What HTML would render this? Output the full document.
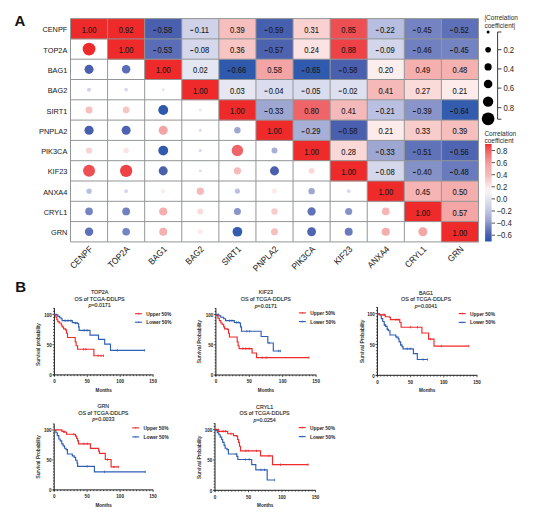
<!DOCTYPE html>
<html><head><meta charset="utf-8"><style>
html,body{margin:0;padding:0;background:#fff;width:550px;height:518px;overflow:hidden}
svg{display:block}
text{font-family:"Liberation Sans",sans-serif}
</style></head><body>
<svg width="550" height="518" viewBox="0 0 550 518">
<rect width="550" height="518" fill="#fff"/>
<rect x="70.50" y="18.60" width="37.39" height="20.60" fill="#ee2a2a"/>
<rect x="107.59" y="18.60" width="37.39" height="20.60" fill="#ee2a2a"/>
<rect x="144.68" y="18.60" width="37.39" height="20.60" fill="#4a60af"/>
<rect x="181.77" y="18.60" width="37.39" height="20.60" fill="#cfd2e8"/>
<rect x="218.86" y="18.60" width="37.39" height="20.60" fill="#f7bebe"/>
<rect x="255.95" y="18.60" width="37.39" height="20.60" fill="#465faf"/>
<rect x="293.04" y="18.60" width="37.39" height="20.60" fill="#fad1d1"/>
<rect x="330.13" y="18.60" width="37.39" height="20.60" fill="#ee4f53"/>
<rect x="367.22" y="18.60" width="37.39" height="20.60" fill="#b8bee0"/>
<rect x="404.31" y="18.60" width="37.39" height="20.60" fill="#7483c1"/>
<rect x="441.40" y="18.60" width="37.39" height="20.60" fill="#5d70b8"/>
<rect x="107.59" y="38.90" width="37.39" height="20.60" fill="#ee2a2a"/>
<rect x="144.68" y="38.90" width="37.39" height="20.60" fill="#5a6db6"/>
<rect x="181.77" y="38.90" width="37.39" height="20.60" fill="#d5d7eb"/>
<rect x="218.86" y="38.90" width="37.39" height="20.60" fill="#f8c5c5"/>
<rect x="255.95" y="38.90" width="37.39" height="20.60" fill="#4d63b0"/>
<rect x="293.04" y="38.90" width="37.39" height="20.60" fill="#fce3e3"/>
<rect x="330.13" y="38.90" width="37.39" height="20.60" fill="#ee4246"/>
<rect x="367.22" y="38.90" width="37.39" height="20.60" fill="#d3d6ea"/>
<rect x="404.31" y="38.90" width="37.39" height="20.60" fill="#7080c0"/>
<rect x="441.40" y="38.90" width="37.39" height="20.60" fill="#7483c1"/>
<rect x="144.68" y="59.20" width="37.39" height="20.60" fill="#ee2a2a"/>
<rect x="181.77" y="59.20" width="37.39" height="20.60" fill="#e4e6f2"/>
<rect x="218.86" y="59.20" width="37.39" height="20.60" fill="#2e59ad"/>
<rect x="255.95" y="59.20" width="37.39" height="20.60" fill="#f4a4a4"/>
<rect x="293.04" y="59.20" width="37.39" height="20.60" fill="#2f5aae"/>
<rect x="330.13" y="59.20" width="37.39" height="20.60" fill="#4a60af"/>
<rect x="367.22" y="59.20" width="37.39" height="20.60" fill="#fdeeee"/>
<rect x="404.31" y="59.20" width="37.39" height="20.60" fill="#f5afaf"/>
<rect x="441.40" y="59.20" width="37.39" height="20.60" fill="#f5b0b0"/>
<rect x="181.77" y="79.50" width="37.39" height="20.60" fill="#ee2a2a"/>
<rect x="218.86" y="79.50" width="37.39" height="20.60" fill="#e6e7f2"/>
<rect x="255.95" y="79.50" width="37.39" height="20.60" fill="#dbddee"/>
<rect x="293.04" y="79.50" width="37.39" height="20.60" fill="#d9dced"/>
<rect x="330.13" y="79.50" width="37.39" height="20.60" fill="#dee0ef"/>
<rect x="367.22" y="79.50" width="37.39" height="20.60" fill="#f6b9b9"/>
<rect x="404.31" y="79.50" width="37.39" height="20.60" fill="#fbdada"/>
<rect x="441.40" y="79.50" width="37.39" height="20.60" fill="#fdebeb"/>
<rect x="218.86" y="99.80" width="37.39" height="20.60" fill="#ee2a2a"/>
<rect x="255.95" y="99.80" width="37.39" height="20.60" fill="#9ea7d2"/>
<rect x="293.04" y="99.80" width="37.39" height="20.60" fill="#ef6468"/>
<rect x="330.13" y="99.80" width="37.39" height="20.60" fill="#f6b9b9"/>
<rect x="367.22" y="99.80" width="37.39" height="20.60" fill="#bac0e1"/>
<rect x="404.31" y="99.80" width="37.39" height="20.60" fill="#8995ca"/>
<rect x="441.40" y="99.80" width="37.39" height="20.60" fill="#335bae"/>
<rect x="255.95" y="120.10" width="37.39" height="20.60" fill="#ee2a2a"/>
<rect x="293.04" y="120.10" width="37.39" height="20.60" fill="#a7afd7"/>
<rect x="330.13" y="120.10" width="37.39" height="20.60" fill="#4a60af"/>
<rect x="367.22" y="120.10" width="37.39" height="20.60" fill="#fdebeb"/>
<rect x="404.31" y="120.10" width="37.39" height="20.60" fill="#f9cccc"/>
<rect x="441.40" y="120.10" width="37.39" height="20.60" fill="#f7bebe"/>
<rect x="293.04" y="140.40" width="37.39" height="20.60" fill="#ee2a2a"/>
<rect x="330.13" y="140.40" width="37.39" height="20.60" fill="#fbd8d8"/>
<rect x="367.22" y="140.40" width="37.39" height="20.60" fill="#9ea7d2"/>
<rect x="404.31" y="140.40" width="37.39" height="20.60" fill="#6073b9"/>
<rect x="441.40" y="140.40" width="37.39" height="20.60" fill="#5065b2"/>
<rect x="330.13" y="160.70" width="37.39" height="20.60" fill="#ee2a2a"/>
<rect x="367.22" y="160.70" width="37.39" height="20.60" fill="#d5d7eb"/>
<rect x="404.31" y="160.70" width="37.39" height="20.60" fill="#8592c8"/>
<rect x="441.40" y="160.70" width="37.39" height="20.60" fill="#6a7bbd"/>
<rect x="367.22" y="181.00" width="37.39" height="20.60" fill="#ee2a2a"/>
<rect x="404.31" y="181.00" width="37.39" height="20.60" fill="#f6b4b4"/>
<rect x="441.40" y="181.00" width="37.39" height="20.60" fill="#f5aeae"/>
<rect x="404.31" y="201.30" width="37.39" height="20.60" fill="#ee2a2a"/>
<rect x="441.40" y="201.30" width="37.39" height="20.60" fill="#f4a5a5"/>
<rect x="441.40" y="221.60" width="37.39" height="20.60" fill="#ee2a2a"/>
<circle cx="89.05" cy="49.05" r="6.37" fill="#ee2a2a"/>
<circle cx="89.05" cy="69.35" r="4.53" fill="#4a60af"/>
<circle cx="126.14" cy="69.35" r="4.26" fill="#5a6db6"/>
<circle cx="89.05" cy="89.65" r="1.99" fill="#cfd2e8"/>
<circle cx="126.14" cy="89.65" r="1.83" fill="#d5d7eb"/>
<circle cx="163.23" cy="89.65" r="1.51" fill="#e4e6f2"/>
<circle cx="89.05" cy="109.95" r="3.51" fill="#f7bebe"/>
<circle cx="126.14" cy="109.95" r="3.34" fill="#f8c5c5"/>
<circle cx="163.23" cy="109.95" r="4.96" fill="#2e59ad"/>
<circle cx="200.31" cy="109.95" r="1.56" fill="#e6e7f2"/>
<circle cx="89.05" cy="130.25" r="4.59" fill="#465faf"/>
<circle cx="126.14" cy="130.25" r="4.48" fill="#4d63b0"/>
<circle cx="163.23" cy="130.25" r="4.53" fill="#f4a4a4"/>
<circle cx="200.31" cy="130.25" r="1.62" fill="#dbddee"/>
<circle cx="237.41" cy="130.25" r="3.18" fill="#9ea7d2"/>
<circle cx="89.05" cy="150.55" r="3.07" fill="#fad1d1"/>
<circle cx="126.14" cy="150.55" r="2.70" fill="#fce3e3"/>
<circle cx="163.23" cy="150.55" r="4.91" fill="#2f5aae"/>
<circle cx="200.31" cy="150.55" r="1.67" fill="#d9dced"/>
<circle cx="237.41" cy="150.55" r="5.72" fill="#ef6468"/>
<circle cx="274.50" cy="150.55" r="2.97" fill="#a7afd7"/>
<circle cx="89.05" cy="170.85" r="5.99" fill="#ee4f53"/>
<circle cx="126.14" cy="170.85" r="6.15" fill="#ee4246"/>
<circle cx="163.23" cy="170.85" r="4.53" fill="#4a60af"/>
<circle cx="200.31" cy="170.85" r="1.51" fill="#dee0ef"/>
<circle cx="237.41" cy="170.85" r="3.61" fill="#f6b9b9"/>
<circle cx="274.50" cy="170.85" r="4.53" fill="#4a60af"/>
<circle cx="311.59" cy="170.85" r="2.91" fill="#fbd8d8"/>
<circle cx="89.05" cy="191.15" r="2.59" fill="#b8bee0"/>
<circle cx="126.14" cy="191.15" r="1.89" fill="#d3d6ea"/>
<circle cx="163.23" cy="191.15" r="2.48" fill="#fdeeee"/>
<circle cx="200.31" cy="191.15" r="3.61" fill="#f6b9b9"/>
<circle cx="237.41" cy="191.15" r="2.53" fill="#bac0e1"/>
<circle cx="274.50" cy="191.15" r="2.53" fill="#fdebeb"/>
<circle cx="311.59" cy="191.15" r="3.18" fill="#9ea7d2"/>
<circle cx="348.68" cy="191.15" r="1.83" fill="#d5d7eb"/>
<circle cx="89.05" cy="211.45" r="3.83" fill="#7483c1"/>
<circle cx="126.14" cy="211.45" r="3.88" fill="#7080c0"/>
<circle cx="163.23" cy="211.45" r="4.05" fill="#f5afaf"/>
<circle cx="200.31" cy="211.45" r="2.86" fill="#fbdada"/>
<circle cx="237.41" cy="211.45" r="3.51" fill="#8995ca"/>
<circle cx="274.50" cy="211.45" r="3.18" fill="#f9cccc"/>
<circle cx="311.59" cy="211.45" r="4.15" fill="#6073b9"/>
<circle cx="348.68" cy="211.45" r="3.56" fill="#8592c8"/>
<circle cx="385.77" cy="211.45" r="3.83" fill="#f6b4b4"/>
<circle cx="89.05" cy="231.75" r="4.21" fill="#5d70b8"/>
<circle cx="126.14" cy="231.75" r="3.83" fill="#7483c1"/>
<circle cx="163.23" cy="231.75" r="3.99" fill="#f5b0b0"/>
<circle cx="200.31" cy="231.75" r="2.53" fill="#fdebeb"/>
<circle cx="237.41" cy="231.75" r="4.86" fill="#335bae"/>
<circle cx="274.50" cy="231.75" r="3.51" fill="#f7bebe"/>
<circle cx="311.59" cy="231.75" r="4.42" fill="#5065b2"/>
<circle cx="348.68" cy="231.75" r="3.99" fill="#6a7bbd"/>
<circle cx="385.77" cy="231.75" r="4.10" fill="#f5aeae"/>
<circle cx="422.86" cy="231.75" r="4.48" fill="#f4a5a5"/>
<line x1="70.50" y1="18.6" x2="70.50" y2="241.90" stroke="#929696" stroke-width="1"/>
<line x1="70.5" y1="18.60" x2="478.49" y2="18.60" stroke="#929696" stroke-width="1"/>
<line x1="107.59" y1="18.6" x2="107.59" y2="241.90" stroke="#929696" stroke-width="1"/>
<line x1="70.5" y1="38.90" x2="478.49" y2="38.90" stroke="#929696" stroke-width="1"/>
<line x1="144.68" y1="18.6" x2="144.68" y2="241.90" stroke="#929696" stroke-width="1"/>
<line x1="70.5" y1="59.20" x2="478.49" y2="59.20" stroke="#929696" stroke-width="1"/>
<line x1="181.77" y1="18.6" x2="181.77" y2="241.90" stroke="#929696" stroke-width="1"/>
<line x1="70.5" y1="79.50" x2="478.49" y2="79.50" stroke="#929696" stroke-width="1"/>
<line x1="218.86" y1="18.6" x2="218.86" y2="241.90" stroke="#929696" stroke-width="1"/>
<line x1="70.5" y1="99.80" x2="478.49" y2="99.80" stroke="#929696" stroke-width="1"/>
<line x1="255.95" y1="18.6" x2="255.95" y2="241.90" stroke="#929696" stroke-width="1"/>
<line x1="70.5" y1="120.10" x2="478.49" y2="120.10" stroke="#929696" stroke-width="1"/>
<line x1="293.04" y1="18.6" x2="293.04" y2="241.90" stroke="#929696" stroke-width="1"/>
<line x1="70.5" y1="140.40" x2="478.49" y2="140.40" stroke="#929696" stroke-width="1"/>
<line x1="330.13" y1="18.6" x2="330.13" y2="241.90" stroke="#929696" stroke-width="1"/>
<line x1="70.5" y1="160.70" x2="478.49" y2="160.70" stroke="#929696" stroke-width="1"/>
<line x1="367.22" y1="18.6" x2="367.22" y2="241.90" stroke="#929696" stroke-width="1"/>
<line x1="70.5" y1="181.00" x2="478.49" y2="181.00" stroke="#929696" stroke-width="1"/>
<line x1="404.31" y1="18.6" x2="404.31" y2="241.90" stroke="#929696" stroke-width="1"/>
<line x1="70.5" y1="201.30" x2="478.49" y2="201.30" stroke="#929696" stroke-width="1"/>
<line x1="441.40" y1="18.6" x2="441.40" y2="241.90" stroke="#929696" stroke-width="1"/>
<line x1="70.5" y1="221.60" x2="478.49" y2="221.60" stroke="#929696" stroke-width="1"/>
<line x1="478.49" y1="18.6" x2="478.49" y2="241.90" stroke="#929696" stroke-width="1"/>
<line x1="70.5" y1="241.90" x2="478.49" y2="241.90" stroke="#929696" stroke-width="1"/>
<text transform="translate(89.05 32.85) scale(0.89 1)" font-size="8.5" text-anchor="middle" fill="#1a1a1a" stroke="#1a1a1a" stroke-width="0.1">1.00</text>
<text transform="translate(126.14 32.85) scale(0.89 1)" font-size="8.5" text-anchor="middle" fill="#1a1a1a" stroke="#1a1a1a" stroke-width="0.1">0.92</text>
<text transform="translate(164.73 32.85) scale(0.89 1)" font-size="8.5" text-anchor="middle" fill="#1a1a1a" stroke="#1a1a1a" stroke-width="0.1">0.58</text>
<rect x="153.23" y="29.80" width="3.0" height="0.95" fill="#151515"/>
<text transform="translate(201.81 32.85) scale(0.89 1)" font-size="8.5" text-anchor="middle" fill="#1a1a1a" stroke="#1a1a1a" stroke-width="0.1">0.11</text>
<rect x="190.31" y="29.80" width="3.0" height="0.95" fill="#151515"/>
<text transform="translate(237.41 32.85) scale(0.89 1)" font-size="8.5" text-anchor="middle" fill="#1a1a1a" stroke="#1a1a1a" stroke-width="0.1">0.39</text>
<text transform="translate(276.00 32.85) scale(0.89 1)" font-size="8.5" text-anchor="middle" fill="#1a1a1a" stroke="#1a1a1a" stroke-width="0.1">0.59</text>
<rect x="264.50" y="29.80" width="3.0" height="0.95" fill="#151515"/>
<text transform="translate(311.59 32.85) scale(0.89 1)" font-size="8.5" text-anchor="middle" fill="#1a1a1a" stroke="#1a1a1a" stroke-width="0.1">0.31</text>
<text transform="translate(348.68 32.85) scale(0.89 1)" font-size="8.5" text-anchor="middle" fill="#1a1a1a" stroke="#1a1a1a" stroke-width="0.1">0.85</text>
<text transform="translate(387.27 32.85) scale(0.89 1)" font-size="8.5" text-anchor="middle" fill="#1a1a1a" stroke="#1a1a1a" stroke-width="0.1">0.22</text>
<rect x="375.77" y="29.80" width="3.0" height="0.95" fill="#151515"/>
<text transform="translate(424.36 32.85) scale(0.89 1)" font-size="8.5" text-anchor="middle" fill="#1a1a1a" stroke="#1a1a1a" stroke-width="0.1">0.45</text>
<rect x="412.86" y="29.80" width="3.0" height="0.95" fill="#151515"/>
<text transform="translate(461.45 32.85) scale(0.89 1)" font-size="8.5" text-anchor="middle" fill="#1a1a1a" stroke="#1a1a1a" stroke-width="0.1">0.52</text>
<rect x="449.95" y="29.80" width="3.0" height="0.95" fill="#151515"/>
<text transform="translate(126.14 53.15) scale(0.89 1)" font-size="8.5" text-anchor="middle" fill="#1a1a1a" stroke="#1a1a1a" stroke-width="0.1">1.00</text>
<text transform="translate(164.73 53.15) scale(0.89 1)" font-size="8.5" text-anchor="middle" fill="#1a1a1a" stroke="#1a1a1a" stroke-width="0.1">0.53</text>
<rect x="153.23" y="50.10" width="3.0" height="0.95" fill="#151515"/>
<text transform="translate(201.81 53.15) scale(0.89 1)" font-size="8.5" text-anchor="middle" fill="#1a1a1a" stroke="#1a1a1a" stroke-width="0.1">0.08</text>
<rect x="190.31" y="50.10" width="3.0" height="0.95" fill="#151515"/>
<text transform="translate(237.41 53.15) scale(0.89 1)" font-size="8.5" text-anchor="middle" fill="#1a1a1a" stroke="#1a1a1a" stroke-width="0.1">0.36</text>
<text transform="translate(276.00 53.15) scale(0.89 1)" font-size="8.5" text-anchor="middle" fill="#1a1a1a" stroke="#1a1a1a" stroke-width="0.1">0.57</text>
<rect x="264.50" y="50.10" width="3.0" height="0.95" fill="#151515"/>
<text transform="translate(311.59 53.15) scale(0.89 1)" font-size="8.5" text-anchor="middle" fill="#1a1a1a" stroke="#1a1a1a" stroke-width="0.1">0.24</text>
<text transform="translate(348.68 53.15) scale(0.89 1)" font-size="8.5" text-anchor="middle" fill="#1a1a1a" stroke="#1a1a1a" stroke-width="0.1">0.88</text>
<text transform="translate(387.27 53.15) scale(0.89 1)" font-size="8.5" text-anchor="middle" fill="#1a1a1a" stroke="#1a1a1a" stroke-width="0.1">0.09</text>
<rect x="375.77" y="50.10" width="3.0" height="0.95" fill="#151515"/>
<text transform="translate(424.36 53.15) scale(0.89 1)" font-size="8.5" text-anchor="middle" fill="#1a1a1a" stroke="#1a1a1a" stroke-width="0.1">0.46</text>
<rect x="412.86" y="50.10" width="3.0" height="0.95" fill="#151515"/>
<text transform="translate(461.45 53.15) scale(0.89 1)" font-size="8.5" text-anchor="middle" fill="#1a1a1a" stroke="#1a1a1a" stroke-width="0.1">0.45</text>
<rect x="449.95" y="50.10" width="3.0" height="0.95" fill="#151515"/>
<text transform="translate(163.23 73.45) scale(0.89 1)" font-size="8.5" text-anchor="middle" fill="#1a1a1a" stroke="#1a1a1a" stroke-width="0.1">1.00</text>
<text transform="translate(200.31 73.45) scale(0.89 1)" font-size="8.5" text-anchor="middle" fill="#1a1a1a" stroke="#1a1a1a" stroke-width="0.1">0.02</text>
<text transform="translate(238.91 73.45) scale(0.89 1)" font-size="8.5" text-anchor="middle" fill="#1a1a1a" stroke="#1a1a1a" stroke-width="0.1">0.66</text>
<rect x="227.41" y="70.40" width="3.0" height="0.95" fill="#151515"/>
<text transform="translate(274.50 73.45) scale(0.89 1)" font-size="8.5" text-anchor="middle" fill="#1a1a1a" stroke="#1a1a1a" stroke-width="0.1">0.58</text>
<text transform="translate(313.09 73.45) scale(0.89 1)" font-size="8.5" text-anchor="middle" fill="#1a1a1a" stroke="#1a1a1a" stroke-width="0.1">0.65</text>
<rect x="301.59" y="70.40" width="3.0" height="0.95" fill="#151515"/>
<text transform="translate(350.18 73.45) scale(0.89 1)" font-size="8.5" text-anchor="middle" fill="#1a1a1a" stroke="#1a1a1a" stroke-width="0.1">0.58</text>
<rect x="338.68" y="70.40" width="3.0" height="0.95" fill="#151515"/>
<text transform="translate(385.77 73.45) scale(0.89 1)" font-size="8.5" text-anchor="middle" fill="#1a1a1a" stroke="#1a1a1a" stroke-width="0.1">0.20</text>
<text transform="translate(422.86 73.45) scale(0.89 1)" font-size="8.5" text-anchor="middle" fill="#1a1a1a" stroke="#1a1a1a" stroke-width="0.1">0.49</text>
<text transform="translate(459.95 73.45) scale(0.89 1)" font-size="8.5" text-anchor="middle" fill="#1a1a1a" stroke="#1a1a1a" stroke-width="0.1">0.48</text>
<text transform="translate(200.31 93.75) scale(0.89 1)" font-size="8.5" text-anchor="middle" fill="#1a1a1a" stroke="#1a1a1a" stroke-width="0.1">1.00</text>
<text transform="translate(237.41 93.75) scale(0.89 1)" font-size="8.5" text-anchor="middle" fill="#1a1a1a" stroke="#1a1a1a" stroke-width="0.1">0.03</text>
<text transform="translate(276.00 93.75) scale(0.89 1)" font-size="8.5" text-anchor="middle" fill="#1a1a1a" stroke="#1a1a1a" stroke-width="0.1">0.04</text>
<rect x="264.50" y="90.70" width="3.0" height="0.95" fill="#151515"/>
<text transform="translate(313.09 93.75) scale(0.89 1)" font-size="8.5" text-anchor="middle" fill="#1a1a1a" stroke="#1a1a1a" stroke-width="0.1">0.05</text>
<rect x="301.59" y="90.70" width="3.0" height="0.95" fill="#151515"/>
<text transform="translate(350.18 93.75) scale(0.89 1)" font-size="8.5" text-anchor="middle" fill="#1a1a1a" stroke="#1a1a1a" stroke-width="0.1">0.02</text>
<rect x="338.68" y="90.70" width="3.0" height="0.95" fill="#151515"/>
<text transform="translate(385.77 93.75) scale(0.89 1)" font-size="8.5" text-anchor="middle" fill="#1a1a1a" stroke="#1a1a1a" stroke-width="0.1">0.41</text>
<text transform="translate(422.86 93.75) scale(0.89 1)" font-size="8.5" text-anchor="middle" fill="#1a1a1a" stroke="#1a1a1a" stroke-width="0.1">0.27</text>
<text transform="translate(459.95 93.75) scale(0.89 1)" font-size="8.5" text-anchor="middle" fill="#1a1a1a" stroke="#1a1a1a" stroke-width="0.1">0.21</text>
<text transform="translate(237.41 114.05) scale(0.89 1)" font-size="8.5" text-anchor="middle" fill="#1a1a1a" stroke="#1a1a1a" stroke-width="0.1">1.00</text>
<text transform="translate(276.00 114.05) scale(0.89 1)" font-size="8.5" text-anchor="middle" fill="#1a1a1a" stroke="#1a1a1a" stroke-width="0.1">0.33</text>
<rect x="264.50" y="111.00" width="3.0" height="0.95" fill="#151515"/>
<text transform="translate(311.59 114.05) scale(0.89 1)" font-size="8.5" text-anchor="middle" fill="#1a1a1a" stroke="#1a1a1a" stroke-width="0.1">0.80</text>
<text transform="translate(348.68 114.05) scale(0.89 1)" font-size="8.5" text-anchor="middle" fill="#1a1a1a" stroke="#1a1a1a" stroke-width="0.1">0.41</text>
<text transform="translate(387.27 114.05) scale(0.89 1)" font-size="8.5" text-anchor="middle" fill="#1a1a1a" stroke="#1a1a1a" stroke-width="0.1">0.21</text>
<rect x="375.77" y="111.00" width="3.0" height="0.95" fill="#151515"/>
<text transform="translate(424.36 114.05) scale(0.89 1)" font-size="8.5" text-anchor="middle" fill="#1a1a1a" stroke="#1a1a1a" stroke-width="0.1">0.39</text>
<rect x="412.86" y="111.00" width="3.0" height="0.95" fill="#151515"/>
<text transform="translate(461.45 114.05) scale(0.89 1)" font-size="8.5" text-anchor="middle" fill="#1a1a1a" stroke="#1a1a1a" stroke-width="0.1">0.64</text>
<rect x="449.95" y="111.00" width="3.0" height="0.95" fill="#151515"/>
<text transform="translate(274.50 134.35) scale(0.89 1)" font-size="8.5" text-anchor="middle" fill="#1a1a1a" stroke="#1a1a1a" stroke-width="0.1">1.00</text>
<text transform="translate(313.09 134.35) scale(0.89 1)" font-size="8.5" text-anchor="middle" fill="#1a1a1a" stroke="#1a1a1a" stroke-width="0.1">0.29</text>
<rect x="301.59" y="131.30" width="3.0" height="0.95" fill="#151515"/>
<text transform="translate(350.18 134.35) scale(0.89 1)" font-size="8.5" text-anchor="middle" fill="#1a1a1a" stroke="#1a1a1a" stroke-width="0.1">0.58</text>
<rect x="338.68" y="131.30" width="3.0" height="0.95" fill="#151515"/>
<text transform="translate(385.77 134.35) scale(0.89 1)" font-size="8.5" text-anchor="middle" fill="#1a1a1a" stroke="#1a1a1a" stroke-width="0.1">0.21</text>
<text transform="translate(422.86 134.35) scale(0.89 1)" font-size="8.5" text-anchor="middle" fill="#1a1a1a" stroke="#1a1a1a" stroke-width="0.1">0.33</text>
<text transform="translate(459.95 134.35) scale(0.89 1)" font-size="8.5" text-anchor="middle" fill="#1a1a1a" stroke="#1a1a1a" stroke-width="0.1">0.39</text>
<text transform="translate(311.59 154.65) scale(0.89 1)" font-size="8.5" text-anchor="middle" fill="#1a1a1a" stroke="#1a1a1a" stroke-width="0.1">1.00</text>
<text transform="translate(348.68 154.65) scale(0.89 1)" font-size="8.5" text-anchor="middle" fill="#1a1a1a" stroke="#1a1a1a" stroke-width="0.1">0.28</text>
<text transform="translate(387.27 154.65) scale(0.89 1)" font-size="8.5" text-anchor="middle" fill="#1a1a1a" stroke="#1a1a1a" stroke-width="0.1">0.33</text>
<rect x="375.77" y="151.60" width="3.0" height="0.95" fill="#151515"/>
<text transform="translate(424.36 154.65) scale(0.89 1)" font-size="8.5" text-anchor="middle" fill="#1a1a1a" stroke="#1a1a1a" stroke-width="0.1">0.51</text>
<rect x="412.86" y="151.60" width="3.0" height="0.95" fill="#151515"/>
<text transform="translate(461.45 154.65) scale(0.89 1)" font-size="8.5" text-anchor="middle" fill="#1a1a1a" stroke="#1a1a1a" stroke-width="0.1">0.56</text>
<rect x="449.95" y="151.60" width="3.0" height="0.95" fill="#151515"/>
<text transform="translate(348.68 174.95) scale(0.89 1)" font-size="8.5" text-anchor="middle" fill="#1a1a1a" stroke="#1a1a1a" stroke-width="0.1">1.00</text>
<text transform="translate(387.27 174.95) scale(0.89 1)" font-size="8.5" text-anchor="middle" fill="#1a1a1a" stroke="#1a1a1a" stroke-width="0.1">0.08</text>
<rect x="375.77" y="171.90" width="3.0" height="0.95" fill="#151515"/>
<text transform="translate(424.36 174.95) scale(0.89 1)" font-size="8.5" text-anchor="middle" fill="#1a1a1a" stroke="#1a1a1a" stroke-width="0.1">0.40</text>
<rect x="412.86" y="171.90" width="3.0" height="0.95" fill="#151515"/>
<text transform="translate(461.45 174.95) scale(0.89 1)" font-size="8.5" text-anchor="middle" fill="#1a1a1a" stroke="#1a1a1a" stroke-width="0.1">0.48</text>
<rect x="449.95" y="171.90" width="3.0" height="0.95" fill="#151515"/>
<text transform="translate(385.77 195.25) scale(0.89 1)" font-size="8.5" text-anchor="middle" fill="#1a1a1a" stroke="#1a1a1a" stroke-width="0.1">1.00</text>
<text transform="translate(422.86 195.25) scale(0.89 1)" font-size="8.5" text-anchor="middle" fill="#1a1a1a" stroke="#1a1a1a" stroke-width="0.1">0.45</text>
<text transform="translate(459.95 195.25) scale(0.89 1)" font-size="8.5" text-anchor="middle" fill="#1a1a1a" stroke="#1a1a1a" stroke-width="0.1">0.50</text>
<text transform="translate(422.86 215.55) scale(0.89 1)" font-size="8.5" text-anchor="middle" fill="#1a1a1a" stroke="#1a1a1a" stroke-width="0.1">1.00</text>
<text transform="translate(459.95 215.55) scale(0.89 1)" font-size="8.5" text-anchor="middle" fill="#1a1a1a" stroke="#1a1a1a" stroke-width="0.1">0.57</text>
<text transform="translate(459.95 235.85) scale(0.89 1)" font-size="8.5" text-anchor="middle" fill="#1a1a1a" stroke="#1a1a1a" stroke-width="0.1">1.00</text>
<text transform="translate(67.30 32.35) scale(0.92 1)" font-size="8.0" text-anchor="end" fill="#222" stroke="#222" stroke-width="0.04">CENPF</text>
<text transform="translate(67.30 52.65) scale(0.92 1)" font-size="8.0" text-anchor="end" fill="#222" stroke="#222" stroke-width="0.04">TOP2A</text>
<text transform="translate(67.30 72.95) scale(0.92 1)" font-size="8.0" text-anchor="end" fill="#222" stroke="#222" stroke-width="0.04">BAG1</text>
<text transform="translate(67.30 93.25) scale(0.92 1)" font-size="8.0" text-anchor="end" fill="#222" stroke="#222" stroke-width="0.04">BAG2</text>
<text transform="translate(67.30 113.55) scale(0.92 1)" font-size="8.0" text-anchor="end" fill="#222" stroke="#222" stroke-width="0.04">SIRT1</text>
<text transform="translate(67.30 133.85) scale(0.92 1)" font-size="8.0" text-anchor="end" fill="#222" stroke="#222" stroke-width="0.04">PNPLA2</text>
<text transform="translate(67.30 154.15) scale(0.92 1)" font-size="8.0" text-anchor="end" fill="#222" stroke="#222" stroke-width="0.04">PIK3CA</text>
<text transform="translate(67.30 174.45) scale(0.92 1)" font-size="8.0" text-anchor="end" fill="#222" stroke="#222" stroke-width="0.04">KIF23</text>
<text transform="translate(67.30 194.75) scale(0.92 1)" font-size="8.0" text-anchor="end" fill="#222" stroke="#222" stroke-width="0.04">ANXA4</text>
<text transform="translate(67.30 215.05) scale(0.92 1)" font-size="8.0" text-anchor="end" fill="#222" stroke="#222" stroke-width="0.04">CRYL1</text>
<text transform="translate(67.30 235.35) scale(0.92 1)" font-size="8.0" text-anchor="end" fill="#222" stroke="#222" stroke-width="0.04">GRN</text>
<text transform="translate(88.55 245.00) rotate(-45) scale(0.92 1)" font-size="8.9" text-anchor="end" fill="#222" dominant-baseline="hanging" stroke="#222" stroke-width="0.04">CENPF</text>
<text transform="translate(125.64 245.00) rotate(-45) scale(0.92 1)" font-size="8.9" text-anchor="end" fill="#222" dominant-baseline="hanging" stroke="#222" stroke-width="0.04">TOP2A</text>
<text transform="translate(162.73 245.00) rotate(-45) scale(0.92 1)" font-size="8.9" text-anchor="end" fill="#222" dominant-baseline="hanging" stroke="#222" stroke-width="0.04">BAG1</text>
<text transform="translate(199.81 245.00) rotate(-45) scale(0.92 1)" font-size="8.9" text-anchor="end" fill="#222" dominant-baseline="hanging" stroke="#222" stroke-width="0.04">BAG2</text>
<text transform="translate(236.91 245.00) rotate(-45) scale(0.92 1)" font-size="8.9" text-anchor="end" fill="#222" dominant-baseline="hanging" stroke="#222" stroke-width="0.04">SIRT1</text>
<text transform="translate(274.00 245.00) rotate(-45) scale(0.92 1)" font-size="8.9" text-anchor="end" fill="#222" dominant-baseline="hanging" stroke="#222" stroke-width="0.04">PNPLA2</text>
<text transform="translate(311.09 245.00) rotate(-45) scale(0.92 1)" font-size="8.9" text-anchor="end" fill="#222" dominant-baseline="hanging" stroke="#222" stroke-width="0.04">PIK3CA</text>
<text transform="translate(348.18 245.00) rotate(-45) scale(0.92 1)" font-size="8.9" text-anchor="end" fill="#222" dominant-baseline="hanging" stroke="#222" stroke-width="0.04">KIF23</text>
<text transform="translate(385.27 245.00) rotate(-45) scale(0.92 1)" font-size="8.9" text-anchor="end" fill="#222" dominant-baseline="hanging" stroke="#222" stroke-width="0.04">ANXA4</text>
<text transform="translate(422.36 245.00) rotate(-45) scale(0.92 1)" font-size="8.9" text-anchor="end" fill="#222" dominant-baseline="hanging" stroke="#222" stroke-width="0.04">CRYL1</text>
<text transform="translate(459.45 245.00) rotate(-45) scale(0.92 1)" font-size="8.9" text-anchor="end" fill="#222" dominant-baseline="hanging" stroke="#222" stroke-width="0.04">GRN</text>
<text x="14.4" y="26.0" font-size="15" font-weight="bold" fill="#111">A</text>
<text x="15.2" y="291.7" font-size="15" font-weight="bold" fill="#111">B</text>
<text transform="translate(484.40 20.30)" font-size="6.5" text-anchor="start" fill="#2a2a2a" >|Correlation</text>
<text transform="translate(484.40 28.20)" font-size="6.5" text-anchor="start" fill="#2a2a2a" >coefficient|</text>
<circle cx="488.1" cy="32" r="1.5" fill="#000"/>
<circle cx="488.1" cy="49.7" r="2.8" fill="#000"/>
<circle cx="488.1" cy="66.9" r="3.6" fill="#000"/>
<circle cx="488.1" cy="84.1" r="4.25" fill="#000"/>
<circle cx="488.1" cy="101.6" r="5.2" fill="#000"/>
<circle cx="488.1" cy="118.8" r="6.35" fill="#000"/>
<path d="M501.4 32 H497.6 V119.2 H501.4" fill="none" stroke="#3a3a3a" stroke-width="1.0"/>
<line x1="497.6" y1="49.7" x2="501.4" y2="49.7" stroke="#3a3a3a" stroke-width="1.0"/>
<text transform="translate(503.40 52.80) scale(0.9 1)" font-size="8.6" text-anchor="start" fill="#1e1e1e" >0.2</text>
<line x1="497.6" y1="68.9" x2="501.4" y2="68.9" stroke="#3a3a3a" stroke-width="1.0"/>
<text transform="translate(503.40 72.00) scale(0.9 1)" font-size="8.6" text-anchor="start" fill="#1e1e1e" >0.4</text>
<line x1="497.6" y1="88.1" x2="501.4" y2="88.1" stroke="#3a3a3a" stroke-width="1.0"/>
<text transform="translate(503.40 91.20) scale(0.9 1)" font-size="8.6" text-anchor="start" fill="#1e1e1e" >0.6</text>
<line x1="497.6" y1="107.7" x2="501.4" y2="107.7" stroke="#3a3a3a" stroke-width="1.0"/>
<text transform="translate(503.40 110.80) scale(0.9 1)" font-size="8.6" text-anchor="start" fill="#1e1e1e" >0.8</text>
<text transform="translate(484.40 135.50)" font-size="6.5" text-anchor="start" fill="#2a2a2a" >Correlation</text>
<text transform="translate(484.40 143.40)" font-size="6.5" text-anchor="start" fill="#2a2a2a" >coefficient</text>
<defs><linearGradient id="cb" x1="0" y1="0" x2="0" y2="1"><stop offset="0.000" stop-color="#ee2a2a"/><stop offset="0.025" stop-color="#ee4246"/><stop offset="0.050" stop-color="#ef5357"/><stop offset="0.075" stop-color="#ef6468"/><stop offset="0.100" stop-color="#f07073"/><stop offset="0.125" stop-color="#f17c7e"/><stop offset="0.150" stop-color="#f28789"/><stop offset="0.175" stop-color="#f39394"/><stop offset="0.200" stop-color="#f49f9f"/><stop offset="0.225" stop-color="#f4a7a7"/><stop offset="0.250" stop-color="#f5acac"/><stop offset="0.275" stop-color="#f5b1b1"/><stop offset="0.300" stop-color="#f6b6b6"/><stop offset="0.325" stop-color="#f6bcbc"/><stop offset="0.350" stop-color="#f8c6c6"/><stop offset="0.375" stop-color="#f9cfcf"/><stop offset="0.400" stop-color="#fbd9d9"/><stop offset="0.425" stop-color="#fce4e4"/><stop offset="0.450" stop-color="#fdeeee"/><stop offset="0.475" stop-color="#faf0f1"/><stop offset="0.500" stop-color="#f7f1f4"/><stop offset="0.525" stop-color="#efedf3"/><stop offset="0.550" stop-color="#e7e8f2"/><stop offset="0.575" stop-color="#e0e2f0"/><stop offset="0.600" stop-color="#dadced"/><stop offset="0.625" stop-color="#d4d7ea"/><stop offset="0.650" stop-color="#cbcfe7"/><stop offset="0.675" stop-color="#c3c8e4"/><stop offset="0.700" stop-color="#bbc0e1"/><stop offset="0.725" stop-color="#b2b8dd"/><stop offset="0.750" stop-color="#a8b0d7"/><stop offset="0.775" stop-color="#9fa7d2"/><stop offset="0.800" stop-color="#919ccd"/><stop offset="0.825" stop-color="#8290c7"/><stop offset="0.850" stop-color="#7483c2"/><stop offset="0.875" stop-color="#6778bc"/><stop offset="0.900" stop-color="#5a6eb6"/><stop offset="0.925" stop-color="#4d63b1"/><stop offset="0.950" stop-color="#3f5daf"/><stop offset="0.975" stop-color="#2f5aae"/><stop offset="1.000" stop-color="#2a55ab"/></linearGradient></defs>
<rect x="485.1" y="144.0" width="6.5" height="97.5" fill="url(#cb)"/>
<line x1="491.6" y1="150.50" x2="495" y2="150.50" stroke="#444" stroke-width="0.9"/>
<text transform="translate(496.50 153.60) scale(0.9 1)" font-size="8.6" text-anchor="start" fill="#1e1e1e" >0.8</text>
<line x1="491.6" y1="162.60" x2="495" y2="162.60" stroke="#444" stroke-width="0.9"/>
<text transform="translate(496.50 165.70) scale(0.9 1)" font-size="8.6" text-anchor="start" fill="#1e1e1e" >0.6</text>
<line x1="491.6" y1="174.70" x2="495" y2="174.70" stroke="#444" stroke-width="0.9"/>
<text transform="translate(496.50 177.80) scale(0.9 1)" font-size="8.6" text-anchor="start" fill="#1e1e1e" >0.4</text>
<line x1="491.6" y1="186.80" x2="495" y2="186.80" stroke="#444" stroke-width="0.9"/>
<text transform="translate(496.50 189.90) scale(0.9 1)" font-size="8.6" text-anchor="start" fill="#1e1e1e" >0.2</text>
<line x1="491.6" y1="198.90" x2="495" y2="198.90" stroke="#444" stroke-width="0.9"/>
<text transform="translate(496.50 202.00) scale(0.9 1)" font-size="8.6" text-anchor="start" fill="#1e1e1e" >0.0</text>
<line x1="491.6" y1="211.00" x2="495" y2="211.00" stroke="#444" stroke-width="0.9"/>
<text transform="translate(496.50 214.10) scale(0.9 1)" font-size="8.6" text-anchor="start" fill="#1e1e1e" >−0.2</text>
<line x1="491.6" y1="223.10" x2="495" y2="223.10" stroke="#444" stroke-width="0.9"/>
<text transform="translate(496.50 226.20) scale(0.9 1)" font-size="8.6" text-anchor="start" fill="#1e1e1e" >−0.4</text>
<line x1="491.6" y1="235.20" x2="495" y2="235.20" stroke="#444" stroke-width="0.9"/>
<text transform="translate(496.50 238.30) scale(0.9 1)" font-size="8.6" text-anchor="start" fill="#1e1e1e" >−0.6</text>
<path d="M54.40 308.05 V376.10 M53.20 374.90 H153.40" fill="none" stroke="#1e1e1e" stroke-width="1.0"/>
<line x1="54.40" y1="374.9" x2="54.40" y2="376.9" stroke="#1e1e1e" stroke-width="0.75"/>
<line x1="57.69" y1="374.9" x2="57.69" y2="376.2" stroke="#1e1e1e" stroke-width="0.75"/>
<line x1="60.98" y1="374.9" x2="60.98" y2="376.2" stroke="#1e1e1e" stroke-width="0.75"/>
<line x1="64.27" y1="374.9" x2="64.27" y2="376.2" stroke="#1e1e1e" stroke-width="0.75"/>
<line x1="67.56" y1="374.9" x2="67.56" y2="376.2" stroke="#1e1e1e" stroke-width="0.75"/>
<line x1="70.85" y1="374.9" x2="70.85" y2="376.2" stroke="#1e1e1e" stroke-width="0.75"/>
<line x1="74.14" y1="374.9" x2="74.14" y2="376.2" stroke="#1e1e1e" stroke-width="0.75"/>
<line x1="77.43" y1="374.9" x2="77.43" y2="376.2" stroke="#1e1e1e" stroke-width="0.75"/>
<line x1="80.72" y1="374.9" x2="80.72" y2="376.2" stroke="#1e1e1e" stroke-width="0.75"/>
<line x1="84.01" y1="374.9" x2="84.01" y2="376.2" stroke="#1e1e1e" stroke-width="0.75"/>
<line x1="87.30" y1="374.9" x2="87.30" y2="376.9" stroke="#1e1e1e" stroke-width="0.75"/>
<line x1="90.59" y1="374.9" x2="90.59" y2="376.2" stroke="#1e1e1e" stroke-width="0.75"/>
<line x1="93.88" y1="374.9" x2="93.88" y2="376.2" stroke="#1e1e1e" stroke-width="0.75"/>
<line x1="97.17" y1="374.9" x2="97.17" y2="376.2" stroke="#1e1e1e" stroke-width="0.75"/>
<line x1="100.46" y1="374.9" x2="100.46" y2="376.2" stroke="#1e1e1e" stroke-width="0.75"/>
<line x1="103.75" y1="374.9" x2="103.75" y2="376.2" stroke="#1e1e1e" stroke-width="0.75"/>
<line x1="107.04" y1="374.9" x2="107.04" y2="376.2" stroke="#1e1e1e" stroke-width="0.75"/>
<line x1="110.33" y1="374.9" x2="110.33" y2="376.2" stroke="#1e1e1e" stroke-width="0.75"/>
<line x1="113.62" y1="374.9" x2="113.62" y2="376.2" stroke="#1e1e1e" stroke-width="0.75"/>
<line x1="116.91" y1="374.9" x2="116.91" y2="376.2" stroke="#1e1e1e" stroke-width="0.75"/>
<line x1="120.20" y1="374.9" x2="120.20" y2="376.9" stroke="#1e1e1e" stroke-width="0.75"/>
<line x1="123.49" y1="374.9" x2="123.49" y2="376.2" stroke="#1e1e1e" stroke-width="0.75"/>
<line x1="126.78" y1="374.9" x2="126.78" y2="376.2" stroke="#1e1e1e" stroke-width="0.75"/>
<line x1="130.07" y1="374.9" x2="130.07" y2="376.2" stroke="#1e1e1e" stroke-width="0.75"/>
<line x1="133.36" y1="374.9" x2="133.36" y2="376.2" stroke="#1e1e1e" stroke-width="0.75"/>
<line x1="136.65" y1="374.9" x2="136.65" y2="376.2" stroke="#1e1e1e" stroke-width="0.75"/>
<line x1="139.94" y1="374.9" x2="139.94" y2="376.2" stroke="#1e1e1e" stroke-width="0.75"/>
<line x1="143.23" y1="374.9" x2="143.23" y2="376.2" stroke="#1e1e1e" stroke-width="0.75"/>
<line x1="146.52" y1="374.9" x2="146.52" y2="376.2" stroke="#1e1e1e" stroke-width="0.75"/>
<line x1="149.81" y1="374.9" x2="149.81" y2="376.2" stroke="#1e1e1e" stroke-width="0.75"/>
<line x1="153.10" y1="374.9" x2="153.10" y2="376.9" stroke="#1e1e1e" stroke-width="0.75"/>
<line x1="52.40" y1="374.90" x2="54.4" y2="374.90" stroke="#1e1e1e" stroke-width="0.75"/>
<line x1="53.10" y1="371.88" x2="54.4" y2="371.88" stroke="#1e1e1e" stroke-width="0.75"/>
<line x1="53.10" y1="368.85" x2="54.4" y2="368.85" stroke="#1e1e1e" stroke-width="0.75"/>
<line x1="53.10" y1="365.82" x2="54.4" y2="365.82" stroke="#1e1e1e" stroke-width="0.75"/>
<line x1="53.10" y1="362.80" x2="54.4" y2="362.80" stroke="#1e1e1e" stroke-width="0.75"/>
<line x1="53.10" y1="359.77" x2="54.4" y2="359.77" stroke="#1e1e1e" stroke-width="0.75"/>
<line x1="53.10" y1="356.75" x2="54.4" y2="356.75" stroke="#1e1e1e" stroke-width="0.75"/>
<line x1="53.10" y1="353.72" x2="54.4" y2="353.72" stroke="#1e1e1e" stroke-width="0.75"/>
<line x1="53.10" y1="350.70" x2="54.4" y2="350.70" stroke="#1e1e1e" stroke-width="0.75"/>
<line x1="53.10" y1="347.67" x2="54.4" y2="347.67" stroke="#1e1e1e" stroke-width="0.75"/>
<line x1="52.40" y1="344.65" x2="54.4" y2="344.65" stroke="#1e1e1e" stroke-width="0.75"/>
<line x1="53.10" y1="341.62" x2="54.4" y2="341.62" stroke="#1e1e1e" stroke-width="0.75"/>
<line x1="53.10" y1="338.60" x2="54.4" y2="338.60" stroke="#1e1e1e" stroke-width="0.75"/>
<line x1="53.10" y1="335.57" x2="54.4" y2="335.57" stroke="#1e1e1e" stroke-width="0.75"/>
<line x1="53.10" y1="332.55" x2="54.4" y2="332.55" stroke="#1e1e1e" stroke-width="0.75"/>
<line x1="53.10" y1="329.52" x2="54.4" y2="329.52" stroke="#1e1e1e" stroke-width="0.75"/>
<line x1="53.10" y1="326.50" x2="54.4" y2="326.50" stroke="#1e1e1e" stroke-width="0.75"/>
<line x1="53.10" y1="323.47" x2="54.4" y2="323.47" stroke="#1e1e1e" stroke-width="0.75"/>
<line x1="53.10" y1="320.45" x2="54.4" y2="320.45" stroke="#1e1e1e" stroke-width="0.75"/>
<line x1="53.10" y1="317.42" x2="54.4" y2="317.42" stroke="#1e1e1e" stroke-width="0.75"/>
<line x1="52.40" y1="314.40" x2="54.4" y2="314.40" stroke="#1e1e1e" stroke-width="0.75"/>
<line x1="53.10" y1="311.38" x2="54.4" y2="311.38" stroke="#1e1e1e" stroke-width="0.75"/>
<line x1="53.10" y1="308.35" x2="54.4" y2="308.35" stroke="#1e1e1e" stroke-width="0.75"/>
<text transform="translate(54.40 383.30) scale(0.92 1)" font-size="5.0" text-anchor="middle" fill="#1e1e1e" font-weight="bold">0</text>
<text transform="translate(87.30 383.30) scale(0.92 1)" font-size="5.0" text-anchor="middle" fill="#1e1e1e" font-weight="bold">50</text>
<text transform="translate(120.20 383.30) scale(0.92 1)" font-size="5.0" text-anchor="middle" fill="#1e1e1e" font-weight="bold">100</text>
<text transform="translate(153.10 383.30) scale(0.92 1)" font-size="5.0" text-anchor="middle" fill="#1e1e1e" font-weight="bold">150</text>
<text transform="translate(51.80 377.20) scale(0.92 1)" font-size="5.0" text-anchor="end" fill="#1e1e1e" font-weight="bold">0</text>
<text transform="translate(51.80 346.95) scale(0.92 1)" font-size="5.0" text-anchor="end" fill="#1e1e1e" font-weight="bold">50</text>
<text transform="translate(51.80 316.70) scale(0.92 1)" font-size="5.0" text-anchor="end" fill="#1e1e1e" font-weight="bold">100</text>
<text transform="translate(103.75 391.90) scale(0.92 1)" font-size="5.0" text-anchor="middle" fill="#1e1e1e" font-weight="bold">Months</text>
<text transform="translate(39.60 344.50) rotate(-90) scale(0.93 1)" font-size="5.5" text-anchor="middle" fill="#1e1e1e" stroke="#1e1e1e" stroke-width="0.12">Survival probability</text>
<text transform="translate(99.60 293.80) scale(0.95 1)" font-size="5.6" text-anchor="middle" fill="#1e1e1e" stroke="#1e1e1e" stroke-width="0.12">TOP2A</text>
<text transform="translate(99.60 300.50) scale(0.97 1)" font-size="5.6" text-anchor="middle" fill="#1e1e1e" stroke="#1e1e1e" stroke-width="0.12">OS of TCGA-DDLPS</text>
<text transform="translate(99.60 307.10) scale(0.95 1)" font-size="5.6" text-anchor="middle" fill="#1e1e1e" stroke="#1e1e1e" stroke-width="0.12"><tspan font-style="italic">p</tspan>=0.0171</text>
<path d="M54.40 314.30 H56.30 V314.80 H57.80 V316.30 H59.70 V317.70 H61.20 V318.70 H62.10 V320.60 H72.30 V322.60 H74.70 V323.00 H77.60 V323.50 H78.60 V326.90 H79.10 V330.40 H90.00 V335.10 H98.50 V339.30 H104.70 V344.10 H110.50 V350.30 H144.60" fill="none" stroke="#2f5fb3" stroke-width="1.15" stroke-linejoin="miter" stroke-linecap="butt"/>
<path d="M54.40 314.80 H55.90 V317.20 H56.80 V319.70 H57.80 V321.60 H59.20 V323.00 H61.20 V325.00 H62.10 V326.90 H63.60 V328.80 H65.50 V329.80 H66.50 V333.20 H67.50 V337.50 H75.20 V341.90 H76.10 V345.70 H77.60 V349.20 H93.90 V355.70 H103.50" fill="none" stroke="#ee2a2b" stroke-width="1.15" stroke-linejoin="miter" stroke-linecap="butt"/>
<line x1="65.10" y1="319.40" x2="65.10" y2="321.80" stroke="#2f5fb3" stroke-width="0.8"/>
<line x1="67.90" y1="319.40" x2="67.90" y2="321.80" stroke="#2f5fb3" stroke-width="0.8"/>
<line x1="70.90" y1="319.40" x2="70.90" y2="321.80" stroke="#2f5fb3" stroke-width="0.8"/>
<line x1="75.50" y1="321.80" x2="75.50" y2="324.20" stroke="#2f5fb3" stroke-width="0.8"/>
<line x1="77.00" y1="321.80" x2="77.00" y2="324.20" stroke="#2f5fb3" stroke-width="0.8"/>
<line x1="84.20" y1="329.20" x2="84.20" y2="331.60" stroke="#2f5fb3" stroke-width="0.8"/>
<line x1="87.10" y1="329.20" x2="87.10" y2="331.60" stroke="#2f5fb3" stroke-width="0.8"/>
<line x1="117.40" y1="349.10" x2="117.40" y2="351.50" stroke="#2f5fb3" stroke-width="0.8"/>
<line x1="144.60" y1="349.10" x2="144.60" y2="351.50" stroke="#2f5fb3" stroke-width="0.8"/>
<line x1="83.60" y1="348.00" x2="83.60" y2="350.40" stroke="#ee2a2b" stroke-width="0.8"/>
<line x1="85.90" y1="348.00" x2="85.90" y2="350.40" stroke="#ee2a2b" stroke-width="0.8"/>
<line x1="98.10" y1="354.50" x2="98.10" y2="356.90" stroke="#ee2a2b" stroke-width="0.8"/>
<line x1="101.00" y1="354.50" x2="101.00" y2="356.90" stroke="#ee2a2b" stroke-width="0.8"/>
<line x1="103.50" y1="354.50" x2="103.50" y2="356.90" stroke="#ee2a2b" stroke-width="0.8"/>
<line x1="135.00" y1="313.70" x2="142.00" y2="313.70" stroke="#ee2a2b" stroke-width="1.1"/>
<line x1="138.50" y1="312.70" x2="138.50" y2="314.70" stroke="#ee2a2b" stroke-width="0.6"/>
<text transform="translate(146.30 315.70) scale(0.93 1)" font-size="5.2" text-anchor="start" fill="#1e1e1e" font-weight="bold">Upper 50%</text>
<line x1="135.00" y1="322.20" x2="142.00" y2="322.20" stroke="#2f5fb3" stroke-width="1.1"/>
<line x1="138.50" y1="321.20" x2="138.50" y2="323.20" stroke="#2f5fb3" stroke-width="0.6"/>
<text transform="translate(146.30 324.20) scale(0.93 1)" font-size="5.2" text-anchor="start" fill="#1e1e1e" font-weight="bold">Lower 50%</text>
<path d="M215.90 308.15 V376.20 M214.70 375.00 H316.40" fill="none" stroke="#1e1e1e" stroke-width="1.0"/>
<line x1="215.90" y1="375.0" x2="215.90" y2="377.0" stroke="#1e1e1e" stroke-width="0.75"/>
<line x1="219.24" y1="375.0" x2="219.24" y2="376.3" stroke="#1e1e1e" stroke-width="0.75"/>
<line x1="222.58" y1="375.0" x2="222.58" y2="376.3" stroke="#1e1e1e" stroke-width="0.75"/>
<line x1="225.92" y1="375.0" x2="225.92" y2="376.3" stroke="#1e1e1e" stroke-width="0.75"/>
<line x1="229.26" y1="375.0" x2="229.26" y2="376.3" stroke="#1e1e1e" stroke-width="0.75"/>
<line x1="232.60" y1="375.0" x2="232.60" y2="376.3" stroke="#1e1e1e" stroke-width="0.75"/>
<line x1="235.94" y1="375.0" x2="235.94" y2="376.3" stroke="#1e1e1e" stroke-width="0.75"/>
<line x1="239.28" y1="375.0" x2="239.28" y2="376.3" stroke="#1e1e1e" stroke-width="0.75"/>
<line x1="242.62" y1="375.0" x2="242.62" y2="376.3" stroke="#1e1e1e" stroke-width="0.75"/>
<line x1="245.96" y1="375.0" x2="245.96" y2="376.3" stroke="#1e1e1e" stroke-width="0.75"/>
<line x1="249.30" y1="375.0" x2="249.30" y2="377.0" stroke="#1e1e1e" stroke-width="0.75"/>
<line x1="252.64" y1="375.0" x2="252.64" y2="376.3" stroke="#1e1e1e" stroke-width="0.75"/>
<line x1="255.98" y1="375.0" x2="255.98" y2="376.3" stroke="#1e1e1e" stroke-width="0.75"/>
<line x1="259.32" y1="375.0" x2="259.32" y2="376.3" stroke="#1e1e1e" stroke-width="0.75"/>
<line x1="262.66" y1="375.0" x2="262.66" y2="376.3" stroke="#1e1e1e" stroke-width="0.75"/>
<line x1="266.00" y1="375.0" x2="266.00" y2="376.3" stroke="#1e1e1e" stroke-width="0.75"/>
<line x1="269.34" y1="375.0" x2="269.34" y2="376.3" stroke="#1e1e1e" stroke-width="0.75"/>
<line x1="272.68" y1="375.0" x2="272.68" y2="376.3" stroke="#1e1e1e" stroke-width="0.75"/>
<line x1="276.02" y1="375.0" x2="276.02" y2="376.3" stroke="#1e1e1e" stroke-width="0.75"/>
<line x1="279.36" y1="375.0" x2="279.36" y2="376.3" stroke="#1e1e1e" stroke-width="0.75"/>
<line x1="282.70" y1="375.0" x2="282.70" y2="377.0" stroke="#1e1e1e" stroke-width="0.75"/>
<line x1="286.04" y1="375.0" x2="286.04" y2="376.3" stroke="#1e1e1e" stroke-width="0.75"/>
<line x1="289.38" y1="375.0" x2="289.38" y2="376.3" stroke="#1e1e1e" stroke-width="0.75"/>
<line x1="292.72" y1="375.0" x2="292.72" y2="376.3" stroke="#1e1e1e" stroke-width="0.75"/>
<line x1="296.06" y1="375.0" x2="296.06" y2="376.3" stroke="#1e1e1e" stroke-width="0.75"/>
<line x1="299.40" y1="375.0" x2="299.40" y2="376.3" stroke="#1e1e1e" stroke-width="0.75"/>
<line x1="302.74" y1="375.0" x2="302.74" y2="376.3" stroke="#1e1e1e" stroke-width="0.75"/>
<line x1="306.08" y1="375.0" x2="306.08" y2="376.3" stroke="#1e1e1e" stroke-width="0.75"/>
<line x1="309.42" y1="375.0" x2="309.42" y2="376.3" stroke="#1e1e1e" stroke-width="0.75"/>
<line x1="312.76" y1="375.0" x2="312.76" y2="376.3" stroke="#1e1e1e" stroke-width="0.75"/>
<line x1="316.10" y1="375.0" x2="316.10" y2="377.0" stroke="#1e1e1e" stroke-width="0.75"/>
<line x1="213.90" y1="375.00" x2="215.9" y2="375.00" stroke="#1e1e1e" stroke-width="0.75"/>
<line x1="214.60" y1="371.98" x2="215.9" y2="371.98" stroke="#1e1e1e" stroke-width="0.75"/>
<line x1="214.60" y1="368.95" x2="215.9" y2="368.95" stroke="#1e1e1e" stroke-width="0.75"/>
<line x1="214.60" y1="365.93" x2="215.9" y2="365.93" stroke="#1e1e1e" stroke-width="0.75"/>
<line x1="214.60" y1="362.90" x2="215.9" y2="362.90" stroke="#1e1e1e" stroke-width="0.75"/>
<line x1="214.60" y1="359.88" x2="215.9" y2="359.88" stroke="#1e1e1e" stroke-width="0.75"/>
<line x1="214.60" y1="356.85" x2="215.9" y2="356.85" stroke="#1e1e1e" stroke-width="0.75"/>
<line x1="214.60" y1="353.82" x2="215.9" y2="353.82" stroke="#1e1e1e" stroke-width="0.75"/>
<line x1="214.60" y1="350.80" x2="215.9" y2="350.80" stroke="#1e1e1e" stroke-width="0.75"/>
<line x1="214.60" y1="347.77" x2="215.9" y2="347.77" stroke="#1e1e1e" stroke-width="0.75"/>
<line x1="213.90" y1="344.75" x2="215.9" y2="344.75" stroke="#1e1e1e" stroke-width="0.75"/>
<line x1="214.60" y1="341.73" x2="215.9" y2="341.73" stroke="#1e1e1e" stroke-width="0.75"/>
<line x1="214.60" y1="338.70" x2="215.9" y2="338.70" stroke="#1e1e1e" stroke-width="0.75"/>
<line x1="214.60" y1="335.68" x2="215.9" y2="335.68" stroke="#1e1e1e" stroke-width="0.75"/>
<line x1="214.60" y1="332.65" x2="215.9" y2="332.65" stroke="#1e1e1e" stroke-width="0.75"/>
<line x1="214.60" y1="329.62" x2="215.9" y2="329.62" stroke="#1e1e1e" stroke-width="0.75"/>
<line x1="214.60" y1="326.60" x2="215.9" y2="326.60" stroke="#1e1e1e" stroke-width="0.75"/>
<line x1="214.60" y1="323.57" x2="215.9" y2="323.57" stroke="#1e1e1e" stroke-width="0.75"/>
<line x1="214.60" y1="320.55" x2="215.9" y2="320.55" stroke="#1e1e1e" stroke-width="0.75"/>
<line x1="214.60" y1="317.52" x2="215.9" y2="317.52" stroke="#1e1e1e" stroke-width="0.75"/>
<line x1="213.90" y1="314.50" x2="215.9" y2="314.50" stroke="#1e1e1e" stroke-width="0.75"/>
<line x1="214.60" y1="311.48" x2="215.9" y2="311.48" stroke="#1e1e1e" stroke-width="0.75"/>
<line x1="214.60" y1="308.45" x2="215.9" y2="308.45" stroke="#1e1e1e" stroke-width="0.75"/>
<text transform="translate(215.90 383.40) scale(0.92 1)" font-size="5.0" text-anchor="middle" fill="#1e1e1e" font-weight="bold">0</text>
<text transform="translate(249.30 383.40) scale(0.92 1)" font-size="5.0" text-anchor="middle" fill="#1e1e1e" font-weight="bold">50</text>
<text transform="translate(282.70 383.40) scale(0.92 1)" font-size="5.0" text-anchor="middle" fill="#1e1e1e" font-weight="bold">100</text>
<text transform="translate(316.10 383.40) scale(0.92 1)" font-size="5.0" text-anchor="middle" fill="#1e1e1e" font-weight="bold">150</text>
<text transform="translate(213.30 377.30) scale(0.92 1)" font-size="5.0" text-anchor="end" fill="#1e1e1e" font-weight="bold">0</text>
<text transform="translate(213.30 347.05) scale(0.92 1)" font-size="5.0" text-anchor="end" fill="#1e1e1e" font-weight="bold">50</text>
<text transform="translate(213.30 316.80) scale(0.92 1)" font-size="5.0" text-anchor="end" fill="#1e1e1e" font-weight="bold">100</text>
<text transform="translate(266.00 392.00) scale(0.92 1)" font-size="5.0" text-anchor="middle" fill="#1e1e1e" font-weight="bold">Months</text>
<text transform="translate(200.80 341.70) rotate(-90) scale(0.93 1)" font-size="5.5" text-anchor="middle" fill="#1e1e1e" stroke="#1e1e1e" stroke-width="0.12">Survival Probability</text>
<text transform="translate(265.80 294.20) scale(0.95 1)" font-size="5.6" text-anchor="middle" fill="#1e1e1e" stroke="#1e1e1e" stroke-width="0.12">KIF23</text>
<text transform="translate(265.80 300.90) scale(0.97 1)" font-size="5.6" text-anchor="middle" fill="#1e1e1e" stroke="#1e1e1e" stroke-width="0.12">OS of TCGA-DDLPS</text>
<text transform="translate(265.80 307.50) scale(0.95 1)" font-size="5.6" text-anchor="middle" fill="#1e1e1e" stroke="#1e1e1e" stroke-width="0.12"><tspan font-style="italic">p</tspan>=0.0171</text>
<path d="M215.90 314.30 H218.80 V315.80 H220.80 V317.20 H223.70 V318.70 H225.60 V320.60 H234.30 V322.50 H239.60 V323.00 H240.50 V326.90 H241.50 V331.20 H261.10 V336.50 H267.80 V343.00 H273.30 V351.00 H280.40" fill="none" stroke="#2f5fb3" stroke-width="1.15" stroke-linejoin="miter" stroke-linecap="butt"/>
<path d="M215.90 315.30 H217.90 V318.20 H219.30 V320.60 H220.80 V323.00 H222.20 V324.50 H223.70 V326.90 H224.60 V328.80 H227.50 V329.30 H228.50 V333.20 H229.40 V337.00 H237.20 V341.90 H238.10 V345.70 H239.10 V348.60 H252.10 V353.00 H256.50 V357.60 H308.80" fill="none" stroke="#ee2a2b" stroke-width="1.15" stroke-linejoin="miter" stroke-linecap="butt"/>
<line x1="229.40" y1="319.40" x2="229.40" y2="321.80" stroke="#2f5fb3" stroke-width="0.8"/>
<line x1="231.90" y1="319.40" x2="231.90" y2="321.80" stroke="#2f5fb3" stroke-width="0.8"/>
<line x1="236.50" y1="321.30" x2="236.50" y2="323.70" stroke="#2f5fb3" stroke-width="0.8"/>
<line x1="238.30" y1="321.30" x2="238.30" y2="323.70" stroke="#2f5fb3" stroke-width="0.8"/>
<line x1="246.80" y1="330.00" x2="246.80" y2="332.40" stroke="#2f5fb3" stroke-width="0.8"/>
<line x1="249.70" y1="330.00" x2="249.70" y2="332.40" stroke="#2f5fb3" stroke-width="0.8"/>
<line x1="269.20" y1="341.80" x2="269.20" y2="344.20" stroke="#2f5fb3" stroke-width="0.8"/>
<line x1="278.60" y1="349.80" x2="278.60" y2="352.20" stroke="#2f5fb3" stroke-width="0.8"/>
<line x1="280.40" y1="349.80" x2="280.40" y2="352.20" stroke="#2f5fb3" stroke-width="0.8"/>
<line x1="243.00" y1="347.40" x2="243.00" y2="349.80" stroke="#ee2a2b" stroke-width="0.8"/>
<line x1="245.90" y1="347.40" x2="245.90" y2="349.80" stroke="#ee2a2b" stroke-width="0.8"/>
<line x1="249.20" y1="347.40" x2="249.20" y2="349.80" stroke="#ee2a2b" stroke-width="0.8"/>
<line x1="262.10" y1="356.40" x2="262.10" y2="358.80" stroke="#ee2a2b" stroke-width="0.8"/>
<line x1="266.20" y1="356.40" x2="266.20" y2="358.80" stroke="#ee2a2b" stroke-width="0.8"/>
<line x1="308.80" y1="356.40" x2="308.80" y2="358.80" stroke="#ee2a2b" stroke-width="0.8"/>
<line x1="298.90" y1="312.90" x2="305.90" y2="312.90" stroke="#ee2a2b" stroke-width="1.1"/>
<line x1="302.40" y1="311.90" x2="302.40" y2="313.90" stroke="#ee2a2b" stroke-width="0.6"/>
<text transform="translate(310.20 314.90) scale(0.93 1)" font-size="5.2" text-anchor="start" fill="#1e1e1e" font-weight="bold">Upper 50%</text>
<line x1="298.90" y1="321.60" x2="305.90" y2="321.60" stroke="#2f5fb3" stroke-width="1.1"/>
<line x1="302.40" y1="320.60" x2="302.40" y2="322.60" stroke="#2f5fb3" stroke-width="0.6"/>
<text transform="translate(310.20 323.60) scale(0.93 1)" font-size="5.2" text-anchor="start" fill="#1e1e1e" font-weight="bold">Lower 50%</text>
<path d="M377.40 307.12 V376.50 M376.20 375.30 H477.30" fill="none" stroke="#1e1e1e" stroke-width="1.0"/>
<line x1="377.40" y1="375.3" x2="377.40" y2="377.3" stroke="#1e1e1e" stroke-width="0.75"/>
<line x1="380.72" y1="375.3" x2="380.72" y2="376.6" stroke="#1e1e1e" stroke-width="0.75"/>
<line x1="384.04" y1="375.3" x2="384.04" y2="376.6" stroke="#1e1e1e" stroke-width="0.75"/>
<line x1="387.36" y1="375.3" x2="387.36" y2="376.6" stroke="#1e1e1e" stroke-width="0.75"/>
<line x1="390.68" y1="375.3" x2="390.68" y2="376.6" stroke="#1e1e1e" stroke-width="0.75"/>
<line x1="394.00" y1="375.3" x2="394.00" y2="376.6" stroke="#1e1e1e" stroke-width="0.75"/>
<line x1="397.32" y1="375.3" x2="397.32" y2="376.6" stroke="#1e1e1e" stroke-width="0.75"/>
<line x1="400.64" y1="375.3" x2="400.64" y2="376.6" stroke="#1e1e1e" stroke-width="0.75"/>
<line x1="403.96" y1="375.3" x2="403.96" y2="376.6" stroke="#1e1e1e" stroke-width="0.75"/>
<line x1="407.28" y1="375.3" x2="407.28" y2="376.6" stroke="#1e1e1e" stroke-width="0.75"/>
<line x1="410.60" y1="375.3" x2="410.60" y2="377.3" stroke="#1e1e1e" stroke-width="0.75"/>
<line x1="413.92" y1="375.3" x2="413.92" y2="376.6" stroke="#1e1e1e" stroke-width="0.75"/>
<line x1="417.24" y1="375.3" x2="417.24" y2="376.6" stroke="#1e1e1e" stroke-width="0.75"/>
<line x1="420.56" y1="375.3" x2="420.56" y2="376.6" stroke="#1e1e1e" stroke-width="0.75"/>
<line x1="423.88" y1="375.3" x2="423.88" y2="376.6" stroke="#1e1e1e" stroke-width="0.75"/>
<line x1="427.20" y1="375.3" x2="427.20" y2="376.6" stroke="#1e1e1e" stroke-width="0.75"/>
<line x1="430.52" y1="375.3" x2="430.52" y2="376.6" stroke="#1e1e1e" stroke-width="0.75"/>
<line x1="433.84" y1="375.3" x2="433.84" y2="376.6" stroke="#1e1e1e" stroke-width="0.75"/>
<line x1="437.16" y1="375.3" x2="437.16" y2="376.6" stroke="#1e1e1e" stroke-width="0.75"/>
<line x1="440.48" y1="375.3" x2="440.48" y2="376.6" stroke="#1e1e1e" stroke-width="0.75"/>
<line x1="443.80" y1="375.3" x2="443.80" y2="377.3" stroke="#1e1e1e" stroke-width="0.75"/>
<line x1="447.12" y1="375.3" x2="447.12" y2="376.6" stroke="#1e1e1e" stroke-width="0.75"/>
<line x1="450.44" y1="375.3" x2="450.44" y2="376.6" stroke="#1e1e1e" stroke-width="0.75"/>
<line x1="453.76" y1="375.3" x2="453.76" y2="376.6" stroke="#1e1e1e" stroke-width="0.75"/>
<line x1="457.08" y1="375.3" x2="457.08" y2="376.6" stroke="#1e1e1e" stroke-width="0.75"/>
<line x1="460.40" y1="375.3" x2="460.40" y2="376.6" stroke="#1e1e1e" stroke-width="0.75"/>
<line x1="463.72" y1="375.3" x2="463.72" y2="376.6" stroke="#1e1e1e" stroke-width="0.75"/>
<line x1="467.04" y1="375.3" x2="467.04" y2="376.6" stroke="#1e1e1e" stroke-width="0.75"/>
<line x1="470.36" y1="375.3" x2="470.36" y2="376.6" stroke="#1e1e1e" stroke-width="0.75"/>
<line x1="473.68" y1="375.3" x2="473.68" y2="376.6" stroke="#1e1e1e" stroke-width="0.75"/>
<line x1="477.00" y1="375.3" x2="477.00" y2="377.3" stroke="#1e1e1e" stroke-width="0.75"/>
<line x1="375.40" y1="375.30" x2="377.4" y2="375.30" stroke="#1e1e1e" stroke-width="0.75"/>
<line x1="376.10" y1="372.22" x2="377.4" y2="372.22" stroke="#1e1e1e" stroke-width="0.75"/>
<line x1="376.10" y1="369.13" x2="377.4" y2="369.13" stroke="#1e1e1e" stroke-width="0.75"/>
<line x1="376.10" y1="366.05" x2="377.4" y2="366.05" stroke="#1e1e1e" stroke-width="0.75"/>
<line x1="376.10" y1="362.96" x2="377.4" y2="362.96" stroke="#1e1e1e" stroke-width="0.75"/>
<line x1="376.10" y1="359.88" x2="377.4" y2="359.88" stroke="#1e1e1e" stroke-width="0.75"/>
<line x1="376.10" y1="356.79" x2="377.4" y2="356.79" stroke="#1e1e1e" stroke-width="0.75"/>
<line x1="376.10" y1="353.71" x2="377.4" y2="353.71" stroke="#1e1e1e" stroke-width="0.75"/>
<line x1="376.10" y1="350.62" x2="377.4" y2="350.62" stroke="#1e1e1e" stroke-width="0.75"/>
<line x1="376.10" y1="347.54" x2="377.4" y2="347.54" stroke="#1e1e1e" stroke-width="0.75"/>
<line x1="375.40" y1="344.45" x2="377.4" y2="344.45" stroke="#1e1e1e" stroke-width="0.75"/>
<line x1="376.10" y1="341.37" x2="377.4" y2="341.37" stroke="#1e1e1e" stroke-width="0.75"/>
<line x1="376.10" y1="338.28" x2="377.4" y2="338.28" stroke="#1e1e1e" stroke-width="0.75"/>
<line x1="376.10" y1="335.19" x2="377.4" y2="335.19" stroke="#1e1e1e" stroke-width="0.75"/>
<line x1="376.10" y1="332.11" x2="377.4" y2="332.11" stroke="#1e1e1e" stroke-width="0.75"/>
<line x1="376.10" y1="329.03" x2="377.4" y2="329.03" stroke="#1e1e1e" stroke-width="0.75"/>
<line x1="376.10" y1="325.94" x2="377.4" y2="325.94" stroke="#1e1e1e" stroke-width="0.75"/>
<line x1="376.10" y1="322.86" x2="377.4" y2="322.86" stroke="#1e1e1e" stroke-width="0.75"/>
<line x1="376.10" y1="319.77" x2="377.4" y2="319.77" stroke="#1e1e1e" stroke-width="0.75"/>
<line x1="376.10" y1="316.69" x2="377.4" y2="316.69" stroke="#1e1e1e" stroke-width="0.75"/>
<line x1="375.40" y1="313.60" x2="377.4" y2="313.60" stroke="#1e1e1e" stroke-width="0.75"/>
<line x1="376.10" y1="310.51" x2="377.4" y2="310.51" stroke="#1e1e1e" stroke-width="0.75"/>
<line x1="376.10" y1="307.43" x2="377.4" y2="307.43" stroke="#1e1e1e" stroke-width="0.75"/>
<text transform="translate(377.40 383.70) scale(0.92 1)" font-size="5.0" text-anchor="middle" fill="#1e1e1e" font-weight="bold">0</text>
<text transform="translate(410.60 383.70) scale(0.92 1)" font-size="5.0" text-anchor="middle" fill="#1e1e1e" font-weight="bold">50</text>
<text transform="translate(443.80 383.70) scale(0.92 1)" font-size="5.0" text-anchor="middle" fill="#1e1e1e" font-weight="bold">100</text>
<text transform="translate(477.00 383.70) scale(0.92 1)" font-size="5.0" text-anchor="middle" fill="#1e1e1e" font-weight="bold">150</text>
<text transform="translate(374.80 377.60) scale(0.92 1)" font-size="5.0" text-anchor="end" fill="#1e1e1e" font-weight="bold">0</text>
<text transform="translate(374.80 346.75) scale(0.92 1)" font-size="5.0" text-anchor="end" fill="#1e1e1e" font-weight="bold">50</text>
<text transform="translate(374.80 315.90) scale(0.92 1)" font-size="5.0" text-anchor="end" fill="#1e1e1e" font-weight="bold">100</text>
<text transform="translate(427.20 392.30) scale(0.92 1)" font-size="5.0" text-anchor="middle" fill="#1e1e1e" font-weight="bold">Months</text>
<text transform="translate(363.60 341.50) rotate(-90) scale(0.93 1)" font-size="5.5" text-anchor="middle" fill="#1e1e1e" stroke="#1e1e1e" stroke-width="0.12">Survival Probability</text>
<text transform="translate(426.00 294.70) scale(0.95 1)" font-size="5.6" text-anchor="middle" fill="#1e1e1e" stroke="#1e1e1e" stroke-width="0.12">BAG1</text>
<text transform="translate(426.00 301.40) scale(0.97 1)" font-size="5.6" text-anchor="middle" fill="#1e1e1e" stroke="#1e1e1e" stroke-width="0.12">OS of TCGA-DDLPS</text>
<text transform="translate(426.00 308.00) scale(0.95 1)" font-size="5.6" text-anchor="middle" fill="#1e1e1e" stroke="#1e1e1e" stroke-width="0.12"><tspan font-style="italic">p</tspan>=0.0041</text>
<path d="M377.40 313.80 H379.50 V314.50 H380.80 V315.70 H381.30 V318.60 H382.70 V321.50 H384.20 V324.90 H385.60 V326.30 H387.10 V329.20 H388.50 V330.70 H390.00 V335.00 H395.80 V337.00 H398.20 V338.90 H399.10 V341.80 H400.60 V344.70 H402.00 V346.60 H403.00 V348.80 H413.40 V353.60 H417.30 V359.50 H427.50" fill="none" stroke="#2f5fb3" stroke-width="1.15" stroke-linejoin="miter" stroke-linecap="butt"/>
<path d="M377.40 313.80 H379.30 V314.80 H385.30 V316.70 H389.50 V317.20 H390.40 V319.60 H399.80 V322.50 H401.10 V327.20 H421.90 V333.00 H428.60 V339.10 H434.00 V346.10 H468.90" fill="none" stroke="#ee2a2b" stroke-width="1.15" stroke-linejoin="miter" stroke-linecap="butt"/>
<line x1="384.70" y1="323.70" x2="384.70" y2="326.10" stroke="#2f5fb3" stroke-width="0.8"/>
<line x1="387.50" y1="328.00" x2="387.50" y2="330.40" stroke="#2f5fb3" stroke-width="0.8"/>
<line x1="396.70" y1="335.80" x2="396.70" y2="338.20" stroke="#2f5fb3" stroke-width="0.8"/>
<line x1="400.60" y1="343.50" x2="400.60" y2="345.90" stroke="#2f5fb3" stroke-width="0.8"/>
<line x1="407.30" y1="347.60" x2="407.30" y2="350.00" stroke="#2f5fb3" stroke-width="0.8"/>
<line x1="410.20" y1="347.60" x2="410.20" y2="350.00" stroke="#2f5fb3" stroke-width="0.8"/>
<line x1="423.10" y1="358.30" x2="423.10" y2="360.70" stroke="#2f5fb3" stroke-width="0.8"/>
<line x1="427.50" y1="358.30" x2="427.50" y2="360.70" stroke="#2f5fb3" stroke-width="0.8"/>
<line x1="383.20" y1="313.60" x2="383.20" y2="316.00" stroke="#ee2a2b" stroke-width="0.8"/>
<line x1="384.70" y1="313.60" x2="384.70" y2="316.00" stroke="#ee2a2b" stroke-width="0.8"/>
<line x1="395.80" y1="318.40" x2="395.80" y2="320.80" stroke="#ee2a2b" stroke-width="0.8"/>
<line x1="398.20" y1="318.40" x2="398.20" y2="320.80" stroke="#ee2a2b" stroke-width="0.8"/>
<line x1="410.70" y1="326.00" x2="410.70" y2="328.40" stroke="#ee2a2b" stroke-width="0.8"/>
<line x1="417.50" y1="326.00" x2="417.50" y2="328.40" stroke="#ee2a2b" stroke-width="0.8"/>
<line x1="430.40" y1="337.90" x2="430.40" y2="340.30" stroke="#ee2a2b" stroke-width="0.8"/>
<line x1="441.30" y1="344.90" x2="441.30" y2="347.30" stroke="#ee2a2b" stroke-width="0.8"/>
<line x1="468.90" y1="344.90" x2="468.90" y2="347.30" stroke="#ee2a2b" stroke-width="0.8"/>
<line x1="458.70" y1="313.60" x2="465.70" y2="313.60" stroke="#ee2a2b" stroke-width="1.1"/>
<line x1="462.20" y1="312.60" x2="462.20" y2="314.60" stroke="#ee2a2b" stroke-width="0.6"/>
<text transform="translate(470.00 315.60) scale(0.93 1)" font-size="5.2" text-anchor="start" fill="#1e1e1e" font-weight="bold">Upper 50%</text>
<line x1="458.70" y1="322.40" x2="465.70" y2="322.40" stroke="#2f5fb3" stroke-width="1.1"/>
<line x1="462.20" y1="321.40" x2="462.20" y2="323.40" stroke="#2f5fb3" stroke-width="0.6"/>
<text transform="translate(470.00 324.40) scale(0.93 1)" font-size="5.2" text-anchor="start" fill="#1e1e1e" font-weight="bold">Lower 50%</text>
<path d="M54.20 423.71 V491.10 M53.00 489.90 H153.35" fill="none" stroke="#1e1e1e" stroke-width="1.0"/>
<line x1="54.20" y1="489.9" x2="54.20" y2="491.9" stroke="#1e1e1e" stroke-width="0.75"/>
<line x1="57.50" y1="489.9" x2="57.50" y2="491.2" stroke="#1e1e1e" stroke-width="0.75"/>
<line x1="60.79" y1="489.9" x2="60.79" y2="491.2" stroke="#1e1e1e" stroke-width="0.75"/>
<line x1="64.09" y1="489.9" x2="64.09" y2="491.2" stroke="#1e1e1e" stroke-width="0.75"/>
<line x1="67.38" y1="489.9" x2="67.38" y2="491.2" stroke="#1e1e1e" stroke-width="0.75"/>
<line x1="70.68" y1="489.9" x2="70.68" y2="491.2" stroke="#1e1e1e" stroke-width="0.75"/>
<line x1="73.97" y1="489.9" x2="73.97" y2="491.2" stroke="#1e1e1e" stroke-width="0.75"/>
<line x1="77.27" y1="489.9" x2="77.27" y2="491.2" stroke="#1e1e1e" stroke-width="0.75"/>
<line x1="80.56" y1="489.9" x2="80.56" y2="491.2" stroke="#1e1e1e" stroke-width="0.75"/>
<line x1="83.86" y1="489.9" x2="83.86" y2="491.2" stroke="#1e1e1e" stroke-width="0.75"/>
<line x1="87.15" y1="489.9" x2="87.15" y2="491.9" stroke="#1e1e1e" stroke-width="0.75"/>
<line x1="90.45" y1="489.9" x2="90.45" y2="491.2" stroke="#1e1e1e" stroke-width="0.75"/>
<line x1="93.74" y1="489.9" x2="93.74" y2="491.2" stroke="#1e1e1e" stroke-width="0.75"/>
<line x1="97.03" y1="489.9" x2="97.03" y2="491.2" stroke="#1e1e1e" stroke-width="0.75"/>
<line x1="100.33" y1="489.9" x2="100.33" y2="491.2" stroke="#1e1e1e" stroke-width="0.75"/>
<line x1="103.62" y1="489.9" x2="103.62" y2="491.2" stroke="#1e1e1e" stroke-width="0.75"/>
<line x1="106.92" y1="489.9" x2="106.92" y2="491.2" stroke="#1e1e1e" stroke-width="0.75"/>
<line x1="110.22" y1="489.9" x2="110.22" y2="491.2" stroke="#1e1e1e" stroke-width="0.75"/>
<line x1="113.51" y1="489.9" x2="113.51" y2="491.2" stroke="#1e1e1e" stroke-width="0.75"/>
<line x1="116.81" y1="489.9" x2="116.81" y2="491.2" stroke="#1e1e1e" stroke-width="0.75"/>
<line x1="120.10" y1="489.9" x2="120.10" y2="491.9" stroke="#1e1e1e" stroke-width="0.75"/>
<line x1="123.40" y1="489.9" x2="123.40" y2="491.2" stroke="#1e1e1e" stroke-width="0.75"/>
<line x1="126.69" y1="489.9" x2="126.69" y2="491.2" stroke="#1e1e1e" stroke-width="0.75"/>
<line x1="129.99" y1="489.9" x2="129.99" y2="491.2" stroke="#1e1e1e" stroke-width="0.75"/>
<line x1="133.28" y1="489.9" x2="133.28" y2="491.2" stroke="#1e1e1e" stroke-width="0.75"/>
<line x1="136.57" y1="489.9" x2="136.57" y2="491.2" stroke="#1e1e1e" stroke-width="0.75"/>
<line x1="139.87" y1="489.9" x2="139.87" y2="491.2" stroke="#1e1e1e" stroke-width="0.75"/>
<line x1="143.17" y1="489.9" x2="143.17" y2="491.2" stroke="#1e1e1e" stroke-width="0.75"/>
<line x1="146.46" y1="489.9" x2="146.46" y2="491.2" stroke="#1e1e1e" stroke-width="0.75"/>
<line x1="149.75" y1="489.9" x2="149.75" y2="491.2" stroke="#1e1e1e" stroke-width="0.75"/>
<line x1="153.05" y1="489.9" x2="153.05" y2="491.9" stroke="#1e1e1e" stroke-width="0.75"/>
<line x1="52.20" y1="489.90" x2="54.2" y2="489.90" stroke="#1e1e1e" stroke-width="0.75"/>
<line x1="52.90" y1="486.90" x2="54.2" y2="486.90" stroke="#1e1e1e" stroke-width="0.75"/>
<line x1="52.90" y1="483.91" x2="54.2" y2="483.91" stroke="#1e1e1e" stroke-width="0.75"/>
<line x1="52.90" y1="480.91" x2="54.2" y2="480.91" stroke="#1e1e1e" stroke-width="0.75"/>
<line x1="52.90" y1="477.92" x2="54.2" y2="477.92" stroke="#1e1e1e" stroke-width="0.75"/>
<line x1="52.90" y1="474.92" x2="54.2" y2="474.92" stroke="#1e1e1e" stroke-width="0.75"/>
<line x1="52.90" y1="471.93" x2="54.2" y2="471.93" stroke="#1e1e1e" stroke-width="0.75"/>
<line x1="52.90" y1="468.94" x2="54.2" y2="468.94" stroke="#1e1e1e" stroke-width="0.75"/>
<line x1="52.90" y1="465.94" x2="54.2" y2="465.94" stroke="#1e1e1e" stroke-width="0.75"/>
<line x1="52.90" y1="462.94" x2="54.2" y2="462.94" stroke="#1e1e1e" stroke-width="0.75"/>
<line x1="52.20" y1="459.95" x2="54.2" y2="459.95" stroke="#1e1e1e" stroke-width="0.75"/>
<line x1="52.90" y1="456.95" x2="54.2" y2="456.95" stroke="#1e1e1e" stroke-width="0.75"/>
<line x1="52.90" y1="453.96" x2="54.2" y2="453.96" stroke="#1e1e1e" stroke-width="0.75"/>
<line x1="52.90" y1="450.96" x2="54.2" y2="450.96" stroke="#1e1e1e" stroke-width="0.75"/>
<line x1="52.90" y1="447.97" x2="54.2" y2="447.97" stroke="#1e1e1e" stroke-width="0.75"/>
<line x1="52.90" y1="444.97" x2="54.2" y2="444.97" stroke="#1e1e1e" stroke-width="0.75"/>
<line x1="52.90" y1="441.98" x2="54.2" y2="441.98" stroke="#1e1e1e" stroke-width="0.75"/>
<line x1="52.90" y1="438.98" x2="54.2" y2="438.98" stroke="#1e1e1e" stroke-width="0.75"/>
<line x1="52.90" y1="435.99" x2="54.2" y2="435.99" stroke="#1e1e1e" stroke-width="0.75"/>
<line x1="52.90" y1="433.00" x2="54.2" y2="433.00" stroke="#1e1e1e" stroke-width="0.75"/>
<line x1="52.20" y1="430.00" x2="54.2" y2="430.00" stroke="#1e1e1e" stroke-width="0.75"/>
<line x1="52.90" y1="427.00" x2="54.2" y2="427.00" stroke="#1e1e1e" stroke-width="0.75"/>
<line x1="52.90" y1="424.01" x2="54.2" y2="424.01" stroke="#1e1e1e" stroke-width="0.75"/>
<text transform="translate(54.20 498.30) scale(0.92 1)" font-size="5.0" text-anchor="middle" fill="#1e1e1e" font-weight="bold">0</text>
<text transform="translate(87.15 498.30) scale(0.92 1)" font-size="5.0" text-anchor="middle" fill="#1e1e1e" font-weight="bold">50</text>
<text transform="translate(120.10 498.30) scale(0.92 1)" font-size="5.0" text-anchor="middle" fill="#1e1e1e" font-weight="bold">100</text>
<text transform="translate(153.05 498.30) scale(0.92 1)" font-size="5.0" text-anchor="middle" fill="#1e1e1e" font-weight="bold">150</text>
<text transform="translate(51.60 492.20) scale(0.92 1)" font-size="5.0" text-anchor="end" fill="#1e1e1e" font-weight="bold">0</text>
<text transform="translate(51.60 462.25) scale(0.92 1)" font-size="5.0" text-anchor="end" fill="#1e1e1e" font-weight="bold">50</text>
<text transform="translate(51.60 432.30) scale(0.92 1)" font-size="5.0" text-anchor="end" fill="#1e1e1e" font-weight="bold">100</text>
<text transform="translate(103.62 506.90) scale(0.92 1)" font-size="5.0" text-anchor="middle" fill="#1e1e1e" font-weight="bold">Months</text>
<text transform="translate(39.60 457.00) rotate(-90) scale(0.93 1)" font-size="5.5" text-anchor="middle" fill="#1e1e1e" stroke="#1e1e1e" stroke-width="0.12">Survival Probability</text>
<text transform="translate(103.30 407.80) scale(0.95 1)" font-size="5.6" text-anchor="middle" fill="#1e1e1e" stroke="#1e1e1e" stroke-width="0.12">GRN</text>
<text transform="translate(103.30 414.50) scale(0.97 1)" font-size="5.6" text-anchor="middle" fill="#1e1e1e" stroke="#1e1e1e" stroke-width="0.12">OS of TCGA-DDLPS</text>
<text transform="translate(103.30 421.10) scale(0.95 1)" font-size="5.6" text-anchor="middle" fill="#1e1e1e" stroke="#1e1e1e" stroke-width="0.12"><tspan font-style="italic">p</tspan>=0.0033</text>
<path d="M54.40 430.50 H55.90 V432.70 H57.30 V435.60 H58.80 V439.00 H60.20 V440.90 H61.70 V443.80 H63.10 V445.80 H64.50 V448.20 H66.00 V449.60 H67.40 V454.00 H72.30 V455.90 H74.20 V457.30 H75.60 V460.20 H77.10 V463.10 H77.60 V466.30 H94.40 V471.80 H145.30" fill="none" stroke="#2f5fb3" stroke-width="1.15" stroke-linejoin="miter" stroke-linecap="butt"/>
<path d="M54.40 429.80 H61.90 V431.30 H63.60 V431.80 H65.50 V432.20 H66.50 V434.20 H75.40 V436.10 H76.60 V438.50 H77.60 V440.90 H78.50 V443.80 H90.40 V448.30 H98.70 V451.10 H99.40 V453.40 H105.30 V459.50 H111.10 V466.90 H118.40" fill="none" stroke="#ee2a2b" stroke-width="1.15" stroke-linejoin="miter" stroke-linecap="butt"/>
<line x1="87.20" y1="465.10" x2="87.20" y2="467.50" stroke="#2f5fb3" stroke-width="0.8"/>
<line x1="104.50" y1="470.60" x2="104.50" y2="473.00" stroke="#2f5fb3" stroke-width="0.8"/>
<line x1="145.30" y1="470.60" x2="145.30" y2="473.00" stroke="#2f5fb3" stroke-width="0.8"/>
<line x1="64.10" y1="430.60" x2="64.10" y2="433.00" stroke="#ee2a2b" stroke-width="0.8"/>
<line x1="73.70" y1="433.00" x2="73.70" y2="435.40" stroke="#ee2a2b" stroke-width="0.8"/>
<line x1="83.90" y1="442.60" x2="83.90" y2="445.00" stroke="#ee2a2b" stroke-width="0.8"/>
<line x1="87.20" y1="442.60" x2="87.20" y2="445.00" stroke="#ee2a2b" stroke-width="0.8"/>
<line x1="107.50" y1="458.30" x2="107.50" y2="460.70" stroke="#ee2a2b" stroke-width="0.8"/>
<line x1="114.00" y1="465.70" x2="114.00" y2="468.10" stroke="#ee2a2b" stroke-width="0.8"/>
<line x1="118.40" y1="465.70" x2="118.40" y2="468.10" stroke="#ee2a2b" stroke-width="0.8"/>
<line x1="132.20" y1="427.90" x2="139.20" y2="427.90" stroke="#ee2a2b" stroke-width="1.1"/>
<line x1="135.70" y1="426.90" x2="135.70" y2="428.90" stroke="#ee2a2b" stroke-width="0.6"/>
<text transform="translate(143.50 429.90) scale(0.93 1)" font-size="5.2" text-anchor="start" fill="#1e1e1e" font-weight="bold">Upper 50%</text>
<line x1="132.20" y1="436.90" x2="139.20" y2="436.90" stroke="#2f5fb3" stroke-width="1.1"/>
<line x1="135.70" y1="435.90" x2="135.70" y2="437.90" stroke="#2f5fb3" stroke-width="0.6"/>
<text transform="translate(143.50 438.90) scale(0.93 1)" font-size="5.2" text-anchor="start" fill="#1e1e1e" font-weight="bold">Lower 50%</text>
<path d="M215.00 423.23 V491.50 M213.80 490.30 H315.80" fill="none" stroke="#1e1e1e" stroke-width="1.0"/>
<line x1="215.00" y1="490.3" x2="215.00" y2="492.3" stroke="#1e1e1e" stroke-width="0.75"/>
<line x1="218.35" y1="490.3" x2="218.35" y2="491.6" stroke="#1e1e1e" stroke-width="0.75"/>
<line x1="221.70" y1="490.3" x2="221.70" y2="491.6" stroke="#1e1e1e" stroke-width="0.75"/>
<line x1="225.05" y1="490.3" x2="225.05" y2="491.6" stroke="#1e1e1e" stroke-width="0.75"/>
<line x1="228.40" y1="490.3" x2="228.40" y2="491.6" stroke="#1e1e1e" stroke-width="0.75"/>
<line x1="231.75" y1="490.3" x2="231.75" y2="491.6" stroke="#1e1e1e" stroke-width="0.75"/>
<line x1="235.10" y1="490.3" x2="235.10" y2="491.6" stroke="#1e1e1e" stroke-width="0.75"/>
<line x1="238.45" y1="490.3" x2="238.45" y2="491.6" stroke="#1e1e1e" stroke-width="0.75"/>
<line x1="241.80" y1="490.3" x2="241.80" y2="491.6" stroke="#1e1e1e" stroke-width="0.75"/>
<line x1="245.15" y1="490.3" x2="245.15" y2="491.6" stroke="#1e1e1e" stroke-width="0.75"/>
<line x1="248.50" y1="490.3" x2="248.50" y2="492.3" stroke="#1e1e1e" stroke-width="0.75"/>
<line x1="251.85" y1="490.3" x2="251.85" y2="491.6" stroke="#1e1e1e" stroke-width="0.75"/>
<line x1="255.20" y1="490.3" x2="255.20" y2="491.6" stroke="#1e1e1e" stroke-width="0.75"/>
<line x1="258.55" y1="490.3" x2="258.55" y2="491.6" stroke="#1e1e1e" stroke-width="0.75"/>
<line x1="261.90" y1="490.3" x2="261.90" y2="491.6" stroke="#1e1e1e" stroke-width="0.75"/>
<line x1="265.25" y1="490.3" x2="265.25" y2="491.6" stroke="#1e1e1e" stroke-width="0.75"/>
<line x1="268.60" y1="490.3" x2="268.60" y2="491.6" stroke="#1e1e1e" stroke-width="0.75"/>
<line x1="271.95" y1="490.3" x2="271.95" y2="491.6" stroke="#1e1e1e" stroke-width="0.75"/>
<line x1="275.30" y1="490.3" x2="275.30" y2="491.6" stroke="#1e1e1e" stroke-width="0.75"/>
<line x1="278.65" y1="490.3" x2="278.65" y2="491.6" stroke="#1e1e1e" stroke-width="0.75"/>
<line x1="282.00" y1="490.3" x2="282.00" y2="492.3" stroke="#1e1e1e" stroke-width="0.75"/>
<line x1="285.35" y1="490.3" x2="285.35" y2="491.6" stroke="#1e1e1e" stroke-width="0.75"/>
<line x1="288.70" y1="490.3" x2="288.70" y2="491.6" stroke="#1e1e1e" stroke-width="0.75"/>
<line x1="292.05" y1="490.3" x2="292.05" y2="491.6" stroke="#1e1e1e" stroke-width="0.75"/>
<line x1="295.40" y1="490.3" x2="295.40" y2="491.6" stroke="#1e1e1e" stroke-width="0.75"/>
<line x1="298.75" y1="490.3" x2="298.75" y2="491.6" stroke="#1e1e1e" stroke-width="0.75"/>
<line x1="302.10" y1="490.3" x2="302.10" y2="491.6" stroke="#1e1e1e" stroke-width="0.75"/>
<line x1="305.45" y1="490.3" x2="305.45" y2="491.6" stroke="#1e1e1e" stroke-width="0.75"/>
<line x1="308.80" y1="490.3" x2="308.80" y2="491.6" stroke="#1e1e1e" stroke-width="0.75"/>
<line x1="312.15" y1="490.3" x2="312.15" y2="491.6" stroke="#1e1e1e" stroke-width="0.75"/>
<line x1="315.50" y1="490.3" x2="315.50" y2="492.3" stroke="#1e1e1e" stroke-width="0.75"/>
<line x1="213.00" y1="490.30" x2="215.0" y2="490.30" stroke="#1e1e1e" stroke-width="0.75"/>
<line x1="213.70" y1="487.26" x2="215.0" y2="487.26" stroke="#1e1e1e" stroke-width="0.75"/>
<line x1="213.70" y1="484.23" x2="215.0" y2="484.23" stroke="#1e1e1e" stroke-width="0.75"/>
<line x1="213.70" y1="481.19" x2="215.0" y2="481.19" stroke="#1e1e1e" stroke-width="0.75"/>
<line x1="213.70" y1="478.16" x2="215.0" y2="478.16" stroke="#1e1e1e" stroke-width="0.75"/>
<line x1="213.70" y1="475.12" x2="215.0" y2="475.12" stroke="#1e1e1e" stroke-width="0.75"/>
<line x1="213.70" y1="472.09" x2="215.0" y2="472.09" stroke="#1e1e1e" stroke-width="0.75"/>
<line x1="213.70" y1="469.06" x2="215.0" y2="469.06" stroke="#1e1e1e" stroke-width="0.75"/>
<line x1="213.70" y1="466.02" x2="215.0" y2="466.02" stroke="#1e1e1e" stroke-width="0.75"/>
<line x1="213.70" y1="462.99" x2="215.0" y2="462.99" stroke="#1e1e1e" stroke-width="0.75"/>
<line x1="213.00" y1="459.95" x2="215.0" y2="459.95" stroke="#1e1e1e" stroke-width="0.75"/>
<line x1="213.70" y1="456.92" x2="215.0" y2="456.92" stroke="#1e1e1e" stroke-width="0.75"/>
<line x1="213.70" y1="453.88" x2="215.0" y2="453.88" stroke="#1e1e1e" stroke-width="0.75"/>
<line x1="213.70" y1="450.85" x2="215.0" y2="450.85" stroke="#1e1e1e" stroke-width="0.75"/>
<line x1="213.70" y1="447.81" x2="215.0" y2="447.81" stroke="#1e1e1e" stroke-width="0.75"/>
<line x1="213.70" y1="444.78" x2="215.0" y2="444.78" stroke="#1e1e1e" stroke-width="0.75"/>
<line x1="213.70" y1="441.74" x2="215.0" y2="441.74" stroke="#1e1e1e" stroke-width="0.75"/>
<line x1="213.70" y1="438.71" x2="215.0" y2="438.71" stroke="#1e1e1e" stroke-width="0.75"/>
<line x1="213.70" y1="435.67" x2="215.0" y2="435.67" stroke="#1e1e1e" stroke-width="0.75"/>
<line x1="213.70" y1="432.63" x2="215.0" y2="432.63" stroke="#1e1e1e" stroke-width="0.75"/>
<line x1="213.00" y1="429.60" x2="215.0" y2="429.60" stroke="#1e1e1e" stroke-width="0.75"/>
<line x1="213.70" y1="426.56" x2="215.0" y2="426.56" stroke="#1e1e1e" stroke-width="0.75"/>
<line x1="213.70" y1="423.53" x2="215.0" y2="423.53" stroke="#1e1e1e" stroke-width="0.75"/>
<text transform="translate(215.00 498.70) scale(0.92 1)" font-size="5.0" text-anchor="middle" fill="#1e1e1e" font-weight="bold">0</text>
<text transform="translate(248.50 498.70) scale(0.92 1)" font-size="5.0" text-anchor="middle" fill="#1e1e1e" font-weight="bold">50</text>
<text transform="translate(282.00 498.70) scale(0.92 1)" font-size="5.0" text-anchor="middle" fill="#1e1e1e" font-weight="bold">100</text>
<text transform="translate(315.50 498.70) scale(0.92 1)" font-size="5.0" text-anchor="middle" fill="#1e1e1e" font-weight="bold">150</text>
<text transform="translate(212.40 492.60) scale(0.92 1)" font-size="5.0" text-anchor="end" fill="#1e1e1e" font-weight="bold">0</text>
<text transform="translate(212.40 462.25) scale(0.92 1)" font-size="5.0" text-anchor="end" fill="#1e1e1e" font-weight="bold">50</text>
<text transform="translate(212.40 431.90) scale(0.92 1)" font-size="5.0" text-anchor="end" fill="#1e1e1e" font-weight="bold">100</text>
<text transform="translate(265.25 507.30) scale(0.92 1)" font-size="5.0" text-anchor="middle" fill="#1e1e1e" font-weight="bold">Months</text>
<text transform="translate(200.60 457.50) rotate(-90) scale(0.93 1)" font-size="5.5" text-anchor="middle" fill="#1e1e1e" stroke="#1e1e1e" stroke-width="0.12">Survival Probability</text>
<text transform="translate(264.60 408.60) scale(0.95 1)" font-size="5.6" text-anchor="middle" fill="#1e1e1e" stroke="#1e1e1e" stroke-width="0.12">CRYL1</text>
<text transform="translate(264.60 415.30) scale(0.97 1)" font-size="5.6" text-anchor="middle" fill="#1e1e1e" stroke="#1e1e1e" stroke-width="0.12">OS of TCGA-DDLPS</text>
<text transform="translate(264.60 421.90) scale(0.95 1)" font-size="5.6" text-anchor="middle" fill="#1e1e1e" stroke="#1e1e1e" stroke-width="0.12"><tspan font-style="italic">p</tspan>=0.0254</text>
<path d="M214.90 430.30 H217.30 V432.70 H218.80 V434.70 H220.20 V437.10 H221.70 V439.50 H222.70 V442.40 H224.10 V445.30 H225.10 V448.20 H227.00 V449.60 H228.40 V454.00 H236.80 V456.40 H237.80 V459.50 H251.70 V464.60 H255.80 V469.80 H267.20 V480.00 H274.70" fill="none" stroke="#2f5fb3" stroke-width="1.15" stroke-linejoin="miter" stroke-linecap="butt"/>
<path d="M214.90 429.30 H218.50 V431.30 H227.70 V433.70 H233.50 V435.60 H236.60 V436.10 H237.60 V439.50 H238.60 V442.40 H239.50 V446.20 H240.50 V450.80 H260.50 V455.80 H272.50 V464.60 H308.20" fill="none" stroke="#ee2a2b" stroke-width="1.15" stroke-linejoin="miter" stroke-linecap="butt"/>
<line x1="236.20" y1="452.80" x2="236.20" y2="455.20" stroke="#2f5fb3" stroke-width="0.8"/>
<line x1="245.30" y1="458.30" x2="245.30" y2="460.70" stroke="#2f5fb3" stroke-width="0.8"/>
<line x1="249.20" y1="458.30" x2="249.20" y2="460.70" stroke="#2f5fb3" stroke-width="0.8"/>
<line x1="260.90" y1="468.60" x2="260.90" y2="471.00" stroke="#2f5fb3" stroke-width="0.8"/>
<line x1="264.50" y1="468.60" x2="264.50" y2="471.00" stroke="#2f5fb3" stroke-width="0.8"/>
<line x1="274.70" y1="478.80" x2="274.70" y2="481.20" stroke="#2f5fb3" stroke-width="0.8"/>
<line x1="223.10" y1="430.10" x2="223.10" y2="432.50" stroke="#ee2a2b" stroke-width="0.8"/>
<line x1="225.50" y1="430.10" x2="225.50" y2="432.50" stroke="#ee2a2b" stroke-width="0.8"/>
<line x1="230.90" y1="432.50" x2="230.90" y2="434.90" stroke="#ee2a2b" stroke-width="0.8"/>
<line x1="245.80" y1="449.60" x2="245.80" y2="452.00" stroke="#ee2a2b" stroke-width="0.8"/>
<line x1="248.20" y1="449.60" x2="248.20" y2="452.00" stroke="#ee2a2b" stroke-width="0.8"/>
<line x1="256.40" y1="449.60" x2="256.40" y2="452.00" stroke="#ee2a2b" stroke-width="0.8"/>
<line x1="268.90" y1="454.60" x2="268.90" y2="457.00" stroke="#ee2a2b" stroke-width="0.8"/>
<line x1="280.50" y1="463.40" x2="280.50" y2="465.80" stroke="#ee2a2b" stroke-width="0.8"/>
<line x1="308.20" y1="463.40" x2="308.20" y2="465.80" stroke="#ee2a2b" stroke-width="0.8"/>
<line x1="298.70" y1="427.60" x2="305.70" y2="427.60" stroke="#ee2a2b" stroke-width="1.1"/>
<line x1="302.20" y1="426.60" x2="302.20" y2="428.60" stroke="#ee2a2b" stroke-width="0.6"/>
<text transform="translate(310.00 429.60) scale(0.93 1)" font-size="5.2" text-anchor="start" fill="#1e1e1e" font-weight="bold">Upper 50%</text>
<line x1="298.70" y1="436.60" x2="305.70" y2="436.60" stroke="#2f5fb3" stroke-width="1.1"/>
<line x1="302.20" y1="435.60" x2="302.20" y2="437.60" stroke="#2f5fb3" stroke-width="0.6"/>
<text transform="translate(310.00 438.60) scale(0.93 1)" font-size="5.2" text-anchor="start" fill="#1e1e1e" font-weight="bold">Lower 50%</text>
</svg></body></html>
